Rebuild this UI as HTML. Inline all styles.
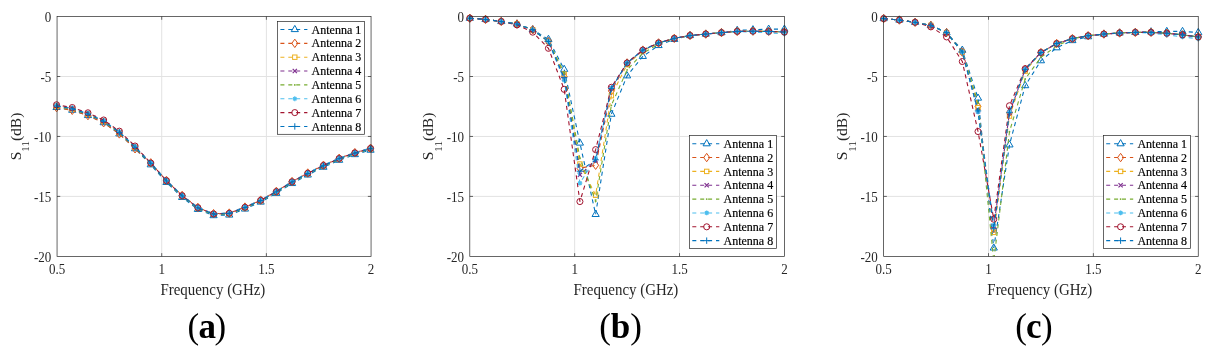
<!DOCTYPE html>
<html><head><meta charset="utf-8"><title>S11 plots</title>
<style>
html,body{margin:0;padding:0;background:#fff;}
svg{display:block;}
text{font-family:"Liberation Serif",serif;fill:#262626;}
.tk{font-size:14.7px;}
.lb{font-size:15px;}
.lg{font-size:12px;fill:#000;stroke:#000;stroke-width:0.18px;}
.cp{font-size:35px;fill:#000;}
</style></head><body>
<svg width="1211" height="349" viewBox="0 0 1211 349">
<rect width="1211" height="349" fill="#fff"/>
<g>
<line x1="161.72" y1="16.55" x2="161.72" y2="256.35" stroke="#e2e2e2" stroke-width="1"/>
<line x1="266.38" y1="16.55" x2="266.38" y2="256.35" stroke="#e2e2e2" stroke-width="1"/>
<line x1="57.05" y1="76.5" x2="371.05" y2="76.5" stroke="#e2e2e2" stroke-width="1"/>
<line x1="57.05" y1="136.45" x2="371.05" y2="136.45" stroke="#e2e2e2" stroke-width="1"/>
<line x1="57.05" y1="196.4" x2="371.05" y2="196.4" stroke="#e2e2e2" stroke-width="1"/>
<clipPath id="cp1"><rect x="52.05" y="11.55" width="324" height="244.8"/></clipPath>
<g clip-path="url(#cp1)">
<polyline points="56.55,107.43 72.25,110.19 87.95,115.47 103.65,122.66 119.35,133.81 135.05,148.68 150.75,164.75 166.45,182.37 182.15,197.36 197.85,209.35 213.55,215.58 229.25,214.98 244.95,208.99 260.65,202.04 276.35,193.28 292.05,183.45 307.75,174.94 323.45,167.14 339.15,160.19 354.85,154.55 370.55,150.12" fill="none" stroke="#0072BD" stroke-width="1.1" stroke-dasharray="4.1 3.7" stroke-dashoffset="0.5"/>
<path d="M56.55 103.33L60.15 109.53L52.95 109.53Z" stroke="#0072BD" stroke-width="1" fill="none"/>
<path d="M72.25 106.09L75.85 112.29L68.65 112.29Z" stroke="#0072BD" stroke-width="1" fill="none"/>
<path d="M87.95 111.37L91.55 117.57L84.35 117.57Z" stroke="#0072BD" stroke-width="1" fill="none"/>
<path d="M103.65 118.56L107.25 124.76L100.05 124.76Z" stroke="#0072BD" stroke-width="1" fill="none"/>
<path d="M119.35 129.71L122.95 135.91L115.75 135.91Z" stroke="#0072BD" stroke-width="1" fill="none"/>
<path d="M135.05 144.58L138.65 150.78L131.45 150.78Z" stroke="#0072BD" stroke-width="1" fill="none"/>
<path d="M150.75 160.65L154.35 166.85L147.15 166.85Z" stroke="#0072BD" stroke-width="1" fill="none"/>
<path d="M166.45 178.27L170.05 184.47L162.85 184.47Z" stroke="#0072BD" stroke-width="1" fill="none"/>
<path d="M182.15 193.26L185.75 199.46L178.55 199.46Z" stroke="#0072BD" stroke-width="1" fill="none"/>
<path d="M197.85 205.25L201.45 211.45L194.25 211.45Z" stroke="#0072BD" stroke-width="1" fill="none"/>
<path d="M213.55 211.48L217.15 217.68L209.95 217.68Z" stroke="#0072BD" stroke-width="1" fill="none"/>
<path d="M229.25 210.88L232.85 217.08L225.65 217.08Z" stroke="#0072BD" stroke-width="1" fill="none"/>
<path d="M244.95 204.89L248.55 211.09L241.35 211.09Z" stroke="#0072BD" stroke-width="1" fill="none"/>
<path d="M260.65 197.94L264.25 204.14L257.05 204.14Z" stroke="#0072BD" stroke-width="1" fill="none"/>
<path d="M276.35 189.18L279.95 195.38L272.75 195.38Z" stroke="#0072BD" stroke-width="1" fill="none"/>
<path d="M292.05 179.35L295.65 185.55L288.45 185.55Z" stroke="#0072BD" stroke-width="1" fill="none"/>
<path d="M307.75 170.84L311.35 177.04L304.15 177.04Z" stroke="#0072BD" stroke-width="1" fill="none"/>
<path d="M323.45 163.04L327.05 169.24L319.85 169.24Z" stroke="#0072BD" stroke-width="1" fill="none"/>
<path d="M339.15 156.09L342.75 162.29L335.55 162.29Z" stroke="#0072BD" stroke-width="1" fill="none"/>
<path d="M354.85 150.45L358.45 156.65L351.25 156.65Z" stroke="#0072BD" stroke-width="1" fill="none"/>
<path d="M370.55 146.02L374.15 152.22L366.95 152.22Z" stroke="#0072BD" stroke-width="1" fill="none"/>
<polyline points="56.55,107.55 72.25,110.31 87.95,115.59 103.65,122.78 119.35,133.93 135.05,148.8 150.75,162.83 166.45,180.45 182.15,195.44 197.85,207.43 213.55,213.67 229.25,213.07 244.95,207.07 260.65,200.12 276.35,191.36 292.05,181.53 307.75,173.02 323.45,165.23 339.15,158.27 354.85,152.64 370.55,148.2" fill="none" stroke="#D95319" stroke-width="1.1" stroke-dasharray="4.1 3.7" stroke-dashoffset="0"/>
<path d="M56.55 103.35L59.55 107.55L56.55 111.75L53.55 107.55Z" stroke="#D95319" stroke-width="1" fill="none"/>
<path d="M72.25 106.11L75.25 110.31L72.25 114.51L69.25 110.31Z" stroke="#D95319" stroke-width="1" fill="none"/>
<path d="M87.95 111.39L90.95 115.59L87.95 119.79L84.95 115.59Z" stroke="#D95319" stroke-width="1" fill="none"/>
<path d="M103.65 118.58L106.65 122.78L103.65 126.98L100.65 122.78Z" stroke="#D95319" stroke-width="1" fill="none"/>
<path d="M119.35 129.73L122.35 133.93L119.35 138.13L116.35 133.93Z" stroke="#D95319" stroke-width="1" fill="none"/>
<path d="M135.05 144.6L138.05 148.8L135.05 153L132.05 148.8Z" stroke="#D95319" stroke-width="1" fill="none"/>
<path d="M150.75 158.63L153.75 162.83L150.75 167.03L147.75 162.83Z" stroke="#D95319" stroke-width="1" fill="none"/>
<path d="M166.45 176.25L169.45 180.45L166.45 184.65L163.45 180.45Z" stroke="#D95319" stroke-width="1" fill="none"/>
<path d="M182.15 191.24L185.15 195.44L182.15 199.64L179.15 195.44Z" stroke="#D95319" stroke-width="1" fill="none"/>
<path d="M197.85 203.23L200.85 207.43L197.85 211.63L194.85 207.43Z" stroke="#D95319" stroke-width="1" fill="none"/>
<path d="M213.55 209.47L216.55 213.67L213.55 217.87L210.55 213.67Z" stroke="#D95319" stroke-width="1" fill="none"/>
<path d="M229.25 208.87L232.25 213.07L229.25 217.27L226.25 213.07Z" stroke="#D95319" stroke-width="1" fill="none"/>
<path d="M244.95 202.87L247.95 207.07L244.95 211.27L241.95 207.07Z" stroke="#D95319" stroke-width="1" fill="none"/>
<path d="M260.65 195.92L263.65 200.12L260.65 204.32L257.65 200.12Z" stroke="#D95319" stroke-width="1" fill="none"/>
<path d="M276.35 187.16L279.35 191.36L276.35 195.56L273.35 191.36Z" stroke="#D95319" stroke-width="1" fill="none"/>
<path d="M292.05 177.33L295.05 181.53L292.05 185.73L289.05 181.53Z" stroke="#D95319" stroke-width="1" fill="none"/>
<path d="M307.75 168.82L310.75 173.02L307.75 177.22L304.75 173.02Z" stroke="#D95319" stroke-width="1" fill="none"/>
<path d="M323.45 161.03L326.45 165.23L323.45 169.43L320.45 165.23Z" stroke="#D95319" stroke-width="1" fill="none"/>
<path d="M339.15 154.07L342.15 158.27L339.15 162.47L336.15 158.27Z" stroke="#D95319" stroke-width="1" fill="none"/>
<path d="M354.85 148.44L357.85 152.64L354.85 156.84L351.85 152.64Z" stroke="#D95319" stroke-width="1" fill="none"/>
<path d="M370.55 144L373.55 148.2L370.55 152.4L367.55 148.2Z" stroke="#D95319" stroke-width="1" fill="none"/>
<polyline points="56.55,106.12 72.25,108.87 87.95,114.15 103.65,121.34 119.35,132.49 135.05,147.36 150.75,163.43 166.45,181.05 182.15,196.04 197.85,208.03 213.55,214.27 229.25,213.67 244.95,207.67 260.65,200.72 276.35,191.96 292.05,182.13 307.75,173.62 323.45,165.83 339.15,158.87 354.85,153.24 370.55,148.8" fill="none" stroke="#EDB120" stroke-width="1.1" stroke-dasharray="4.1 3.7" stroke-dashoffset="0.3"/>
<rect x="54.35" y="103.92" width="4.4" height="4.4" stroke="#EDB120" stroke-width="1" fill="none"/>
<rect x="70.05" y="106.67" width="4.4" height="4.4" stroke="#EDB120" stroke-width="1" fill="none"/>
<rect x="85.75" y="111.95" width="4.4" height="4.4" stroke="#EDB120" stroke-width="1" fill="none"/>
<rect x="101.45" y="119.14" width="4.4" height="4.4" stroke="#EDB120" stroke-width="1" fill="none"/>
<rect x="117.15" y="130.29" width="4.4" height="4.4" stroke="#EDB120" stroke-width="1" fill="none"/>
<rect x="132.85" y="145.16" width="4.4" height="4.4" stroke="#EDB120" stroke-width="1" fill="none"/>
<rect x="148.55" y="161.23" width="4.4" height="4.4" stroke="#EDB120" stroke-width="1" fill="none"/>
<rect x="164.25" y="178.85" width="4.4" height="4.4" stroke="#EDB120" stroke-width="1" fill="none"/>
<rect x="179.95" y="193.84" width="4.4" height="4.4" stroke="#EDB120" stroke-width="1" fill="none"/>
<rect x="195.65" y="205.83" width="4.4" height="4.4" stroke="#EDB120" stroke-width="1" fill="none"/>
<rect x="211.35" y="212.07" width="4.4" height="4.4" stroke="#EDB120" stroke-width="1" fill="none"/>
<rect x="227.05" y="211.47" width="4.4" height="4.4" stroke="#EDB120" stroke-width="1" fill="none"/>
<rect x="242.75" y="205.47" width="4.4" height="4.4" stroke="#EDB120" stroke-width="1" fill="none"/>
<rect x="258.45" y="198.52" width="4.4" height="4.4" stroke="#EDB120" stroke-width="1" fill="none"/>
<rect x="274.15" y="189.76" width="4.4" height="4.4" stroke="#EDB120" stroke-width="1" fill="none"/>
<rect x="289.85" y="179.93" width="4.4" height="4.4" stroke="#EDB120" stroke-width="1" fill="none"/>
<rect x="305.55" y="171.42" width="4.4" height="4.4" stroke="#EDB120" stroke-width="1" fill="none"/>
<rect x="321.25" y="163.63" width="4.4" height="4.4" stroke="#EDB120" stroke-width="1" fill="none"/>
<rect x="336.95" y="156.67" width="4.4" height="4.4" stroke="#EDB120" stroke-width="1" fill="none"/>
<rect x="352.65" y="151.04" width="4.4" height="4.4" stroke="#EDB120" stroke-width="1" fill="none"/>
<rect x="368.35" y="146.6" width="4.4" height="4.4" stroke="#EDB120" stroke-width="1" fill="none"/>
<polyline points="56.55,105.76 72.25,108.51 87.95,113.79 103.65,120.98 119.35,132.13 135.05,147 150.75,163.07 166.45,180.69 182.15,195.68 197.85,207.67 213.55,213.91 229.25,213.31 244.95,207.31 260.65,200.36 276.35,191.6 292.05,181.77 307.75,173.26 323.45,165.47 339.15,158.51 354.85,152.88 370.55,148.44" fill="none" stroke="#7E2F8E" stroke-width="1.1" stroke-dasharray="4.1 3.7" stroke-dashoffset="0"/>
<path d="M54.45 103.66L58.65 107.86M54.45 107.86L58.65 103.66" stroke="#7E2F8E" stroke-width="1.2" fill="none"/>
<path d="M70.15 106.41L74.35 110.61M70.15 110.61L74.35 106.41" stroke="#7E2F8E" stroke-width="1.2" fill="none"/>
<path d="M85.85 111.69L90.05 115.89M85.85 115.89L90.05 111.69" stroke="#7E2F8E" stroke-width="1.2" fill="none"/>
<path d="M101.55 118.88L105.75 123.08M101.55 123.08L105.75 118.88" stroke="#7E2F8E" stroke-width="1.2" fill="none"/>
<path d="M117.25 130.03L121.45 134.23M117.25 134.23L121.45 130.03" stroke="#7E2F8E" stroke-width="1.2" fill="none"/>
<path d="M132.95 144.9L137.15 149.1M132.95 149.1L137.15 144.9" stroke="#7E2F8E" stroke-width="1.2" fill="none"/>
<path d="M148.65 160.97L152.85 165.17M148.65 165.17L152.85 160.97" stroke="#7E2F8E" stroke-width="1.2" fill="none"/>
<path d="M164.35 178.59L168.55 182.79M164.35 182.79L168.55 178.59" stroke="#7E2F8E" stroke-width="1.2" fill="none"/>
<path d="M180.05 193.58L184.25 197.78M180.05 197.78L184.25 193.58" stroke="#7E2F8E" stroke-width="1.2" fill="none"/>
<path d="M195.75 205.57L199.95 209.77M195.75 209.77L199.95 205.57" stroke="#7E2F8E" stroke-width="1.2" fill="none"/>
<path d="M211.45 211.81L215.65 216.01M211.45 216.01L215.65 211.81" stroke="#7E2F8E" stroke-width="1.2" fill="none"/>
<path d="M227.15 211.21L231.35 215.41M227.15 215.41L231.35 211.21" stroke="#7E2F8E" stroke-width="1.2" fill="none"/>
<path d="M242.85 205.21L247.05 209.41M242.85 209.41L247.05 205.21" stroke="#7E2F8E" stroke-width="1.2" fill="none"/>
<path d="M258.55 198.26L262.75 202.46M258.55 202.46L262.75 198.26" stroke="#7E2F8E" stroke-width="1.2" fill="none"/>
<path d="M274.25 189.5L278.45 193.7M274.25 193.7L278.45 189.5" stroke="#7E2F8E" stroke-width="1.2" fill="none"/>
<path d="M289.95 179.67L294.15 183.87M289.95 183.87L294.15 179.67" stroke="#7E2F8E" stroke-width="1.2" fill="none"/>
<path d="M305.65 171.16L309.85 175.36M305.65 175.36L309.85 171.16" stroke="#7E2F8E" stroke-width="1.2" fill="none"/>
<path d="M321.35 163.37L325.55 167.57M321.35 167.57L325.55 163.37" stroke="#7E2F8E" stroke-width="1.2" fill="none"/>
<path d="M337.05 156.41L341.25 160.61M337.05 160.61L341.25 156.41" stroke="#7E2F8E" stroke-width="1.2" fill="none"/>
<path d="M352.75 150.78L356.95 154.98M352.75 154.98L356.95 150.78" stroke="#7E2F8E" stroke-width="1.2" fill="none"/>
<path d="M368.45 146.34L372.65 150.54M368.45 150.54L372.65 146.34" stroke="#7E2F8E" stroke-width="1.2" fill="none"/>
<polyline points="56.55,106.36 72.25,109.11 87.95,114.39 103.65,121.58 119.35,132.73 135.05,147.6 150.75,163.67 166.45,181.29 182.15,196.28 197.85,208.27 213.55,214.5 229.25,213.91 244.95,207.91 260.65,200.96 276.35,192.2 292.05,182.37 307.75,173.86 323.45,166.07 339.15,159.11 354.85,153.48 370.55,149.04" fill="none" stroke="#77AC30" stroke-width="1.1" stroke-dasharray="4.1 3.7" stroke-dashoffset="0.6"/>
<circle cx="56.55" cy="106.36" r="0.9" fill="#77AC30"/>
<circle cx="72.25" cy="109.11" r="0.9" fill="#77AC30"/>
<circle cx="87.95" cy="114.39" r="0.9" fill="#77AC30"/>
<circle cx="103.65" cy="121.58" r="0.9" fill="#77AC30"/>
<circle cx="119.35" cy="132.73" r="0.9" fill="#77AC30"/>
<circle cx="135.05" cy="147.6" r="0.9" fill="#77AC30"/>
<circle cx="150.75" cy="163.67" r="0.9" fill="#77AC30"/>
<circle cx="166.45" cy="181.29" r="0.9" fill="#77AC30"/>
<circle cx="182.15" cy="196.28" r="0.9" fill="#77AC30"/>
<circle cx="197.85" cy="208.27" r="0.9" fill="#77AC30"/>
<circle cx="213.55" cy="214.5" r="0.9" fill="#77AC30"/>
<circle cx="229.25" cy="213.91" r="0.9" fill="#77AC30"/>
<circle cx="244.95" cy="207.91" r="0.9" fill="#77AC30"/>
<circle cx="260.65" cy="200.96" r="0.9" fill="#77AC30"/>
<circle cx="276.35" cy="192.2" r="0.9" fill="#77AC30"/>
<circle cx="292.05" cy="182.37" r="0.9" fill="#77AC30"/>
<circle cx="307.75" cy="173.86" r="0.9" fill="#77AC30"/>
<circle cx="323.45" cy="166.07" r="0.9" fill="#77AC30"/>
<circle cx="339.15" cy="159.11" r="0.9" fill="#77AC30"/>
<circle cx="354.85" cy="153.48" r="0.9" fill="#77AC30"/>
<circle cx="370.55" cy="149.04" r="0.9" fill="#77AC30"/>
<polyline points="56.55,105.4 72.25,108.15 87.95,113.43 103.65,120.62 119.35,131.77 135.05,146.64 150.75,162.71 166.45,180.33 182.15,195.32 197.85,207.31 213.55,213.55 229.25,212.95 244.95,206.95 260.65,200 276.35,191.24 292.05,181.41 307.75,172.9 323.45,165.11 339.15,158.15 354.85,152.52 370.55,148.08" fill="none" stroke="#4DBEEE" stroke-width="1.1" stroke-dasharray="4.1 3.7" stroke-dashoffset="0"/>
<path d="M54.15 105.4L58.95 105.4M56.55 103L56.55 107.8M54.85 103.7L58.25 107.1M54.85 107.1L58.25 103.7" stroke="#4DBEEE" stroke-width="1.2" fill="none"/>
<path d="M69.85 108.15L74.65 108.15M72.25 105.75L72.25 110.55M70.55 106.45L73.95 109.85M70.55 109.85L73.95 106.45" stroke="#4DBEEE" stroke-width="1.2" fill="none"/>
<path d="M85.55 113.43L90.35 113.43M87.95 111.03L87.95 115.83M86.25 111.73L89.65 115.13M86.25 115.13L89.65 111.73" stroke="#4DBEEE" stroke-width="1.2" fill="none"/>
<path d="M101.25 120.62L106.05 120.62M103.65 118.22L103.65 123.02M101.95 118.92L105.35 122.32M101.95 122.32L105.35 118.92" stroke="#4DBEEE" stroke-width="1.2" fill="none"/>
<path d="M116.95 131.77L121.75 131.77M119.35 129.37L119.35 134.17M117.65 130.07L121.05 133.47M117.65 133.47L121.05 130.07" stroke="#4DBEEE" stroke-width="1.2" fill="none"/>
<path d="M132.65 146.64L137.45 146.64M135.05 144.24L135.05 149.04M133.35 144.94L136.75 148.34M133.35 148.34L136.75 144.94" stroke="#4DBEEE" stroke-width="1.2" fill="none"/>
<path d="M148.35 162.71L153.15 162.71M150.75 160.31L150.75 165.11M149.05 161.01L152.45 164.41M149.05 164.41L152.45 161.01" stroke="#4DBEEE" stroke-width="1.2" fill="none"/>
<path d="M164.05 180.33L168.85 180.33M166.45 177.93L166.45 182.73M164.75 178.63L168.15 182.03M164.75 182.03L168.15 178.63" stroke="#4DBEEE" stroke-width="1.2" fill="none"/>
<path d="M179.75 195.32L184.55 195.32M182.15 192.92L182.15 197.72M180.45 193.62L183.85 197.02M180.45 197.02L183.85 193.62" stroke="#4DBEEE" stroke-width="1.2" fill="none"/>
<path d="M195.45 207.31L200.25 207.31M197.85 204.91L197.85 209.71M196.15 205.61L199.55 209.01M196.15 209.01L199.55 205.61" stroke="#4DBEEE" stroke-width="1.2" fill="none"/>
<path d="M211.15 213.55L215.95 213.55M213.55 211.15L213.55 215.95M211.85 211.85L215.25 215.25M211.85 215.25L215.25 211.85" stroke="#4DBEEE" stroke-width="1.2" fill="none"/>
<path d="M226.85 212.95L231.65 212.95M229.25 210.55L229.25 215.35M227.55 211.25L230.95 214.65M227.55 214.65L230.95 211.25" stroke="#4DBEEE" stroke-width="1.2" fill="none"/>
<path d="M242.55 206.95L247.35 206.95M244.95 204.55L244.95 209.35M243.25 205.25L246.65 208.65M243.25 208.65L246.65 205.25" stroke="#4DBEEE" stroke-width="1.2" fill="none"/>
<path d="M258.25 200L263.05 200M260.65 197.6L260.65 202.4M258.95 198.3L262.35 201.7M258.95 201.7L262.35 198.3" stroke="#4DBEEE" stroke-width="1.2" fill="none"/>
<path d="M273.95 191.24L278.75 191.24M276.35 188.84L276.35 193.64M274.65 189.54L278.05 192.94M274.65 192.94L278.05 189.54" stroke="#4DBEEE" stroke-width="1.2" fill="none"/>
<path d="M289.65 181.41L294.45 181.41M292.05 179.01L292.05 183.81M290.35 179.71L293.75 183.11M290.35 183.11L293.75 179.71" stroke="#4DBEEE" stroke-width="1.2" fill="none"/>
<path d="M305.35 172.9L310.15 172.9M307.75 170.5L307.75 175.3M306.05 171.2L309.45 174.6M306.05 174.6L309.45 171.2" stroke="#4DBEEE" stroke-width="1.2" fill="none"/>
<path d="M321.05 165.11L325.85 165.11M323.45 162.71L323.45 167.51M321.75 163.41L325.15 166.81M321.75 166.81L325.15 163.41" stroke="#4DBEEE" stroke-width="1.2" fill="none"/>
<path d="M336.75 158.15L341.55 158.15M339.15 155.75L339.15 160.55M337.45 156.45L340.85 159.85M337.45 159.85L340.85 156.45" stroke="#4DBEEE" stroke-width="1.2" fill="none"/>
<path d="M352.45 152.52L357.25 152.52M354.85 150.12L354.85 154.92M353.15 150.82L356.55 154.22M353.15 154.22L356.55 150.82" stroke="#4DBEEE" stroke-width="1.2" fill="none"/>
<path d="M368.15 148.08L372.95 148.08M370.55 145.68L370.55 150.48M368.85 146.38L372.25 149.78M368.85 149.78L372.25 146.38" stroke="#4DBEEE" stroke-width="1.2" fill="none"/>
<polyline points="56.55,104.8 72.25,107.55 87.95,112.83 103.65,120.02 119.35,131.17 135.05,146.04 150.75,163.07 166.45,180.69 182.15,195.68 197.85,207.67 213.55,213.91 229.25,213.31 244.95,207.31 260.65,200.36 276.35,191.6 292.05,181.77 307.75,173.26 323.45,165.47 339.15,158.51 354.85,152.88 370.55,148.44" fill="none" stroke="#A2142F" stroke-width="1.1" stroke-dasharray="4.1 3.7" stroke-dashoffset="1.5"/>
<circle cx="56.55" cy="104.8" r="3.05" stroke="#A2142F" stroke-width="1" fill="none"/>
<circle cx="72.25" cy="107.55" r="3.05" stroke="#A2142F" stroke-width="1" fill="none"/>
<circle cx="87.95" cy="112.83" r="3.05" stroke="#A2142F" stroke-width="1" fill="none"/>
<circle cx="103.65" cy="120.02" r="3.05" stroke="#A2142F" stroke-width="1" fill="none"/>
<circle cx="119.35" cy="131.17" r="3.05" stroke="#A2142F" stroke-width="1" fill="none"/>
<circle cx="135.05" cy="146.04" r="3.05" stroke="#A2142F" stroke-width="1" fill="none"/>
<circle cx="150.75" cy="163.07" r="3.05" stroke="#A2142F" stroke-width="1" fill="none"/>
<circle cx="166.45" cy="180.69" r="3.05" stroke="#A2142F" stroke-width="1" fill="none"/>
<circle cx="182.15" cy="195.68" r="3.05" stroke="#A2142F" stroke-width="1" fill="none"/>
<circle cx="197.85" cy="207.67" r="3.05" stroke="#A2142F" stroke-width="1" fill="none"/>
<circle cx="213.55" cy="213.91" r="3.05" stroke="#A2142F" stroke-width="1" fill="none"/>
<circle cx="229.25" cy="213.31" r="3.05" stroke="#A2142F" stroke-width="1" fill="none"/>
<circle cx="244.95" cy="207.31" r="3.05" stroke="#A2142F" stroke-width="1" fill="none"/>
<circle cx="260.65" cy="200.36" r="3.05" stroke="#A2142F" stroke-width="1" fill="none"/>
<circle cx="276.35" cy="191.6" r="3.05" stroke="#A2142F" stroke-width="1" fill="none"/>
<circle cx="292.05" cy="181.77" r="3.05" stroke="#A2142F" stroke-width="1" fill="none"/>
<circle cx="307.75" cy="173.26" r="3.05" stroke="#A2142F" stroke-width="1" fill="none"/>
<circle cx="323.45" cy="165.47" r="3.05" stroke="#A2142F" stroke-width="1" fill="none"/>
<circle cx="339.15" cy="158.51" r="3.05" stroke="#A2142F" stroke-width="1" fill="none"/>
<circle cx="354.85" cy="152.88" r="3.05" stroke="#A2142F" stroke-width="1" fill="none"/>
<circle cx="370.55" cy="148.44" r="3.05" stroke="#A2142F" stroke-width="1" fill="none"/>
<polyline points="56.55,106 72.25,108.75 87.95,114.03 103.65,121.22 119.35,132.37 135.05,147.24 150.75,163.31 166.45,180.93 182.15,195.92 197.85,207.91 213.55,214.15 229.25,213.55 244.95,207.55 260.65,200.6 276.35,191.84 292.05,182.01 307.75,173.5 323.45,165.71 339.15,158.75 354.85,153.12 370.55,148.68" fill="none" stroke="#0072BD" stroke-width="1.1" stroke-dasharray="4.1 3.7" stroke-dashoffset="0"/>
<path d="M53.35 106L59.75 106M56.55 102.8L56.55 109.2" stroke="#0072BD" stroke-width="1" fill="none"/>
<path d="M69.05 108.75L75.45 108.75M72.25 105.55L72.25 111.95" stroke="#0072BD" stroke-width="1" fill="none"/>
<path d="M84.75 114.03L91.15 114.03M87.95 110.83L87.95 117.23" stroke="#0072BD" stroke-width="1" fill="none"/>
<path d="M100.45 121.22L106.85 121.22M103.65 118.02L103.65 124.42" stroke="#0072BD" stroke-width="1" fill="none"/>
<path d="M116.15 132.37L122.55 132.37M119.35 129.17L119.35 135.57" stroke="#0072BD" stroke-width="1" fill="none"/>
<path d="M131.85 147.24L138.25 147.24M135.05 144.04L135.05 150.44" stroke="#0072BD" stroke-width="1" fill="none"/>
<path d="M147.55 163.31L153.95 163.31M150.75 160.11L150.75 166.51" stroke="#0072BD" stroke-width="1" fill="none"/>
<path d="M163.25 180.93L169.65 180.93M166.45 177.73L166.45 184.13" stroke="#0072BD" stroke-width="1" fill="none"/>
<path d="M178.95 195.92L185.35 195.92M182.15 192.72L182.15 199.12" stroke="#0072BD" stroke-width="1" fill="none"/>
<path d="M194.65 207.91L201.05 207.91M197.85 204.71L197.85 211.11" stroke="#0072BD" stroke-width="1" fill="none"/>
<path d="M210.35 214.15L216.75 214.15M213.55 210.95L213.55 217.35" stroke="#0072BD" stroke-width="1" fill="none"/>
<path d="M226.05 213.55L232.45 213.55M229.25 210.35L229.25 216.75" stroke="#0072BD" stroke-width="1" fill="none"/>
<path d="M241.75 207.55L248.15 207.55M244.95 204.35L244.95 210.75" stroke="#0072BD" stroke-width="1" fill="none"/>
<path d="M257.45 200.6L263.85 200.6M260.65 197.4L260.65 203.8" stroke="#0072BD" stroke-width="1" fill="none"/>
<path d="M273.15 191.84L279.55 191.84M276.35 188.64L276.35 195.04" stroke="#0072BD" stroke-width="1" fill="none"/>
<path d="M288.85 182.01L295.25 182.01M292.05 178.81L292.05 185.21" stroke="#0072BD" stroke-width="1" fill="none"/>
<path d="M304.55 173.5L310.95 173.5M307.75 170.3L307.75 176.7" stroke="#0072BD" stroke-width="1" fill="none"/>
<path d="M320.25 165.71L326.65 165.71M323.45 162.51L323.45 168.91" stroke="#0072BD" stroke-width="1" fill="none"/>
<path d="M335.95 158.75L342.35 158.75M339.15 155.55L339.15 161.95" stroke="#0072BD" stroke-width="1" fill="none"/>
<path d="M351.65 153.12L358.05 153.12M354.85 149.92L354.85 156.32" stroke="#0072BD" stroke-width="1" fill="none"/>
<path d="M367.35 148.68L373.75 148.68M370.55 145.48L370.55 151.88" stroke="#0072BD" stroke-width="1" fill="none"/>
</g>
<rect x="57.05" y="16.55" width="314" height="239.8" fill="none" stroke="#262626" stroke-width="0.7"/>
<text transform="translate(57.05 274) scale(0.885 1)" text-anchor="middle" class="tk">0.5</text>
<line x1="161.72" y1="256.35" x2="161.72" y2="253.15000000000003" stroke="#262626" stroke-width="0.7"/>
<line x1="161.72" y1="16.55" x2="161.72" y2="19.75" stroke="#262626" stroke-width="0.7"/>
<text transform="translate(161.72 274) scale(0.885 1)" text-anchor="middle" class="tk">1</text>
<line x1="266.38" y1="256.35" x2="266.38" y2="253.15000000000003" stroke="#262626" stroke-width="0.7"/>
<line x1="266.38" y1="16.55" x2="266.38" y2="19.75" stroke="#262626" stroke-width="0.7"/>
<text transform="translate(266.38 274) scale(0.885 1)" text-anchor="middle" class="tk">1.5</text>
<text transform="translate(371.05 274) scale(0.885 1)" text-anchor="middle" class="tk">2</text>
<text transform="translate(51.25 21.85) scale(0.885 1)" text-anchor="end" class="tk">0</text>
<line x1="57.05" y1="76.5" x2="60.25" y2="76.5" stroke="#262626" stroke-width="0.7"/>
<line x1="371.05" y1="76.5" x2="367.85" y2="76.5" stroke="#262626" stroke-width="0.7"/>
<text transform="translate(51.25 81.8) scale(0.885 1)" text-anchor="end" class="tk">-5</text>
<line x1="57.05" y1="136.45" x2="60.25" y2="136.45" stroke="#262626" stroke-width="0.7"/>
<line x1="371.05" y1="136.45" x2="367.85" y2="136.45" stroke="#262626" stroke-width="0.7"/>
<text transform="translate(51.25 141.75) scale(0.885 1)" text-anchor="end" class="tk">-10</text>
<line x1="57.05" y1="196.4" x2="60.25" y2="196.4" stroke="#262626" stroke-width="0.7"/>
<line x1="371.05" y1="196.4" x2="367.85" y2="196.4" stroke="#262626" stroke-width="0.7"/>
<text transform="translate(51.25 201.7) scale(0.885 1)" text-anchor="end" class="tk">-15</text>
<text transform="translate(51.25 261.65) scale(0.885 1)" text-anchor="end" class="tk">-20</text>
<text transform="translate(212.85 295.2) scale(0.945 1)" text-anchor="middle" class="lb" style="font-size:15.8px">Frequency (GHz)</text>
<text transform="translate(20.65 136.45) rotate(-90)" text-anchor="middle" class="lb" style="font-size:15.5px">S<tspan dy="8.4" style="font-size:11px">11</tspan><tspan dy="-8.4">(dB)</tspan></text>
<text y="338.3" class="cp"><tspan x="187.5">(</tspan><tspan x="198.5" font-weight="bold">a</tspan><tspan x="214.6">)</tspan></text>
<rect x="277.6" y="21.4" width="87.0" height="112.9" fill="#fff" stroke="#262626" stroke-width="0.7"/>
<line x1="280.4" y1="29.5" x2="307.4" y2="29.5" stroke="#0072BD" stroke-width="1.1" stroke-dasharray="4 3.9"/>
<path d="M294.8 25.4L298.4 31.6L291.2 31.6Z" stroke="#0072BD" stroke-width="1" fill="none"/>
<text x="311.6" y="33.6" class="lg">Antenna 1</text>
<line x1="280.4" y1="43.35" x2="307.4" y2="43.35" stroke="#D95319" stroke-width="1.1" stroke-dasharray="4 3.9"/>
<path d="M294.8 39.15L297.8 43.35L294.8 47.55L291.8 43.35Z" stroke="#D95319" stroke-width="1" fill="none"/>
<text x="311.6" y="47.45" class="lg">Antenna 2</text>
<line x1="280.4" y1="57.2" x2="307.4" y2="57.2" stroke="#EDB120" stroke-width="1.1" stroke-dasharray="4 3.9"/>
<rect x="292.6" y="55" width="4.4" height="4.4" stroke="#EDB120" stroke-width="1" fill="none"/>
<text x="311.6" y="61.3" class="lg">Antenna 3</text>
<line x1="280.4" y1="71.05" x2="307.4" y2="71.05" stroke="#7E2F8E" stroke-width="1.1" stroke-dasharray="4 3.9"/>
<path d="M292.7 68.95L296.9 73.15M292.7 73.15L296.9 68.95" stroke="#7E2F8E" stroke-width="1.2" fill="none"/>
<text x="311.6" y="75.15" class="lg">Antenna 4</text>
<line x1="280.4" y1="84.9" x2="307.4" y2="84.9" stroke="#77AC30" stroke-width="1.1" stroke-dasharray="4 3.9"/>
<circle cx="294.8" cy="84.9" r="0.9" fill="#77AC30"/>
<text x="311.6" y="89" class="lg">Antenna 5</text>
<line x1="280.4" y1="98.75" x2="307.4" y2="98.75" stroke="#4DBEEE" stroke-width="1.1" stroke-dasharray="4 3.9"/>
<path d="M292.4 98.75L297.2 98.75M294.8 96.35L294.8 101.15M293.1 97.05L296.5 100.45M293.1 100.45L296.5 97.05" stroke="#4DBEEE" stroke-width="1.2" fill="none"/>
<text x="311.6" y="102.85" class="lg">Antenna 6</text>
<line x1="280.4" y1="112.6" x2="307.4" y2="112.6" stroke="#A2142F" stroke-width="1.1" stroke-dasharray="4 3.9"/>
<circle cx="294.8" cy="112.6" r="3.05" stroke="#A2142F" stroke-width="1" fill="none"/>
<text x="311.6" y="116.7" class="lg">Antenna 7</text>
<line x1="280.4" y1="126.45" x2="307.4" y2="126.45" stroke="#0072BD" stroke-width="1.1" stroke-dasharray="4 3.9"/>
<path d="M291.6 126.45L298 126.45M294.8 123.25L294.8 129.65" stroke="#0072BD" stroke-width="1" fill="none"/>
<text x="311.6" y="130.55" class="lg">Antenna 8</text>
</g>
<g>
<line x1="574.67" y1="16.55" x2="574.67" y2="256.35" stroke="#e2e2e2" stroke-width="1"/>
<line x1="679.53" y1="16.55" x2="679.53" y2="256.35" stroke="#e2e2e2" stroke-width="1"/>
<line x1="469.8" y1="76.5" x2="784.4" y2="76.5" stroke="#e2e2e2" stroke-width="1"/>
<line x1="469.8" y1="136.45" x2="784.4" y2="136.45" stroke="#e2e2e2" stroke-width="1"/>
<line x1="469.8" y1="196.4" x2="784.4" y2="196.4" stroke="#e2e2e2" stroke-width="1"/>
<clipPath id="cp2"><rect x="464.8" y="11.55" width="324.6" height="244.8"/></clipPath>
<g clip-path="url(#cp2)">
<polyline points="469.8,18.23 485.53,19.43 501.26,21.47 516.99,23.98 532.72,29.74 548.45,39.33 564.18,69.31 579.91,143.04 595.64,214.39 611.37,114.15 627.1,75.78 642.83,56.36 658.56,45.45 674.29,39.33 690.02,35.49 705.75,34.06 721.48,32.62 737.21,30.34 752.94,29.74 768.67,29.14 784.4,29.14" fill="none" stroke="#0072BD" stroke-width="1.1" stroke-dasharray="4.1 3.7"/>
<path d="M469.8 14.13L473.4 20.33L466.2 20.33Z" stroke="#0072BD" stroke-width="1" fill="none"/>
<path d="M485.53 15.33L489.13 21.53L481.93 21.53Z" stroke="#0072BD" stroke-width="1" fill="none"/>
<path d="M501.26 17.37L504.86 23.57L497.66 23.57Z" stroke="#0072BD" stroke-width="1" fill="none"/>
<path d="M516.99 19.88L520.59 26.08L513.39 26.08Z" stroke="#0072BD" stroke-width="1" fill="none"/>
<path d="M532.72 25.64L536.32 31.84L529.12 31.84Z" stroke="#0072BD" stroke-width="1" fill="none"/>
<path d="M548.45 35.23L552.05 41.43L544.85 41.43Z" stroke="#0072BD" stroke-width="1" fill="none"/>
<path d="M564.18 65.21L567.78 71.41L560.58 71.41Z" stroke="#0072BD" stroke-width="1" fill="none"/>
<path d="M579.91 138.94L583.51 145.14L576.31 145.14Z" stroke="#0072BD" stroke-width="1" fill="none"/>
<path d="M595.64 210.29L599.24 216.49L592.04 216.49Z" stroke="#0072BD" stroke-width="1" fill="none"/>
<path d="M611.37 110.05L614.97 116.25L607.77 116.25Z" stroke="#0072BD" stroke-width="1" fill="none"/>
<path d="M627.1 71.68L630.7 77.88L623.5 77.88Z" stroke="#0072BD" stroke-width="1" fill="none"/>
<path d="M642.83 52.26L646.43 58.46L639.23 58.46Z" stroke="#0072BD" stroke-width="1" fill="none"/>
<path d="M658.56 41.35L662.16 47.55L654.96 47.55Z" stroke="#0072BD" stroke-width="1" fill="none"/>
<path d="M674.29 35.23L677.89 41.43L670.69 41.43Z" stroke="#0072BD" stroke-width="1" fill="none"/>
<path d="M690.02 31.39L693.62 37.59L686.42 37.59Z" stroke="#0072BD" stroke-width="1" fill="none"/>
<path d="M705.75 29.96L709.35 36.16L702.15 36.16Z" stroke="#0072BD" stroke-width="1" fill="none"/>
<path d="M721.48 28.52L725.08 34.72L717.88 34.72Z" stroke="#0072BD" stroke-width="1" fill="none"/>
<path d="M737.21 26.24L740.81 32.44L733.61 32.44Z" stroke="#0072BD" stroke-width="1" fill="none"/>
<path d="M752.94 25.64L756.54 31.84L749.34 31.84Z" stroke="#0072BD" stroke-width="1" fill="none"/>
<path d="M768.67 25.04L772.27 31.24L765.07 31.24Z" stroke="#0072BD" stroke-width="1" fill="none"/>
<path d="M784.4 25.04L788 31.24L780.8 31.24Z" stroke="#0072BD" stroke-width="1" fill="none"/>
<polyline points="469.8,18.23 485.53,19.43 501.26,21.47 516.99,23.98 532.72,29.74 548.45,41.49 564.18,76.5 579.91,168.22 595.64,165.23 611.37,90.89 627.1,62.95 642.83,50.12 658.56,42.93 674.29,38.37 690.02,35.49 705.75,34.06 721.48,32.62 737.21,31.42 752.94,31.18 768.67,31.42 784.4,32.02" fill="none" stroke="#D95319" stroke-width="1.1" stroke-dasharray="4.1 3.7"/>
<path d="M469.8 14.03L472.8 18.23L469.8 22.43L466.8 18.23Z" stroke="#D95319" stroke-width="1" fill="none"/>
<path d="M485.53 15.23L488.53 19.43L485.53 23.63L482.53 19.43Z" stroke="#D95319" stroke-width="1" fill="none"/>
<path d="M501.26 17.27L504.26 21.47L501.26 25.67L498.26 21.47Z" stroke="#D95319" stroke-width="1" fill="none"/>
<path d="M516.99 19.78L519.99 23.98L516.99 28.18L513.99 23.98Z" stroke="#D95319" stroke-width="1" fill="none"/>
<path d="M532.72 25.54L535.72 29.74L532.72 33.94L529.72 29.74Z" stroke="#D95319" stroke-width="1" fill="none"/>
<path d="M548.45 37.29L551.45 41.49L548.45 45.69L545.45 41.49Z" stroke="#D95319" stroke-width="1" fill="none"/>
<path d="M564.18 72.3L567.18 76.5L564.18 80.7L561.18 76.5Z" stroke="#D95319" stroke-width="1" fill="none"/>
<path d="M579.91 164.02L582.91 168.22L579.91 172.42L576.91 168.22Z" stroke="#D95319" stroke-width="1" fill="none"/>
<path d="M595.64 161.03L598.64 165.23L595.64 169.43L592.64 165.23Z" stroke="#D95319" stroke-width="1" fill="none"/>
<path d="M611.37 86.69L614.37 90.89L611.37 95.09L608.37 90.89Z" stroke="#D95319" stroke-width="1" fill="none"/>
<path d="M627.1 58.75L630.1 62.95L627.1 67.15L624.1 62.95Z" stroke="#D95319" stroke-width="1" fill="none"/>
<path d="M642.83 45.92L645.83 50.12L642.83 54.32L639.83 50.12Z" stroke="#D95319" stroke-width="1" fill="none"/>
<path d="M658.56 38.73L661.56 42.93L658.56 47.13L655.56 42.93Z" stroke="#D95319" stroke-width="1" fill="none"/>
<path d="M674.29 34.17L677.29 38.37L674.29 42.57L671.29 38.37Z" stroke="#D95319" stroke-width="1" fill="none"/>
<path d="M690.02 31.29L693.02 35.49L690.02 39.69L687.02 35.49Z" stroke="#D95319" stroke-width="1" fill="none"/>
<path d="M705.75 29.86L708.75 34.06L705.75 38.26L702.75 34.06Z" stroke="#D95319" stroke-width="1" fill="none"/>
<path d="M721.48 28.42L724.48 32.62L721.48 36.82L718.48 32.62Z" stroke="#D95319" stroke-width="1" fill="none"/>
<path d="M737.21 27.22L740.21 31.42L737.21 35.62L734.21 31.42Z" stroke="#D95319" stroke-width="1" fill="none"/>
<path d="M752.94 26.98L755.94 31.18L752.94 35.38L749.94 31.18Z" stroke="#D95319" stroke-width="1" fill="none"/>
<path d="M768.67 27.22L771.67 31.42L768.67 35.62L765.67 31.42Z" stroke="#D95319" stroke-width="1" fill="none"/>
<path d="M784.4 27.82L787.4 32.02L784.4 36.22L781.4 32.02Z" stroke="#D95319" stroke-width="1" fill="none"/>
<polyline points="469.8,18.23 485.53,19.43 501.26,21.47 516.99,23.98 532.72,29.74 548.45,41.49 564.18,74.1 579.91,164.03 595.64,195.2 611.37,95.68 627.1,64.51 642.83,50.72 658.56,42.93 674.29,38.37 690.02,35.49 705.75,34.06 721.48,32.62 737.21,31.42 752.94,31.18 768.67,31.42 784.4,32.02" fill="none" stroke="#EDB120" stroke-width="1.1" stroke-dasharray="4.1 3.7"/>
<rect x="467.6" y="16.03" width="4.4" height="4.4" stroke="#EDB120" stroke-width="1" fill="none"/>
<rect x="483.33" y="17.23" width="4.4" height="4.4" stroke="#EDB120" stroke-width="1" fill="none"/>
<rect x="499.06" y="19.27" width="4.4" height="4.4" stroke="#EDB120" stroke-width="1" fill="none"/>
<rect x="514.79" y="21.78" width="4.4" height="4.4" stroke="#EDB120" stroke-width="1" fill="none"/>
<rect x="530.52" y="27.54" width="4.4" height="4.4" stroke="#EDB120" stroke-width="1" fill="none"/>
<rect x="546.25" y="39.29" width="4.4" height="4.4" stroke="#EDB120" stroke-width="1" fill="none"/>
<rect x="561.98" y="71.9" width="4.4" height="4.4" stroke="#EDB120" stroke-width="1" fill="none"/>
<rect x="577.71" y="161.83" width="4.4" height="4.4" stroke="#EDB120" stroke-width="1" fill="none"/>
<rect x="593.44" y="193" width="4.4" height="4.4" stroke="#EDB120" stroke-width="1" fill="none"/>
<rect x="609.17" y="93.48" width="4.4" height="4.4" stroke="#EDB120" stroke-width="1" fill="none"/>
<rect x="624.9" y="62.31" width="4.4" height="4.4" stroke="#EDB120" stroke-width="1" fill="none"/>
<rect x="640.63" y="48.52" width="4.4" height="4.4" stroke="#EDB120" stroke-width="1" fill="none"/>
<rect x="656.36" y="40.73" width="4.4" height="4.4" stroke="#EDB120" stroke-width="1" fill="none"/>
<rect x="672.09" y="36.17" width="4.4" height="4.4" stroke="#EDB120" stroke-width="1" fill="none"/>
<rect x="687.82" y="33.29" width="4.4" height="4.4" stroke="#EDB120" stroke-width="1" fill="none"/>
<rect x="703.55" y="31.86" width="4.4" height="4.4" stroke="#EDB120" stroke-width="1" fill="none"/>
<rect x="719.28" y="30.42" width="4.4" height="4.4" stroke="#EDB120" stroke-width="1" fill="none"/>
<rect x="735.01" y="29.22" width="4.4" height="4.4" stroke="#EDB120" stroke-width="1" fill="none"/>
<rect x="750.74" y="28.98" width="4.4" height="4.4" stroke="#EDB120" stroke-width="1" fill="none"/>
<rect x="766.47" y="29.22" width="4.4" height="4.4" stroke="#EDB120" stroke-width="1" fill="none"/>
<rect x="782.2" y="29.82" width="4.4" height="4.4" stroke="#EDB120" stroke-width="1" fill="none"/>
<polyline points="469.8,18.23 485.53,19.43 501.26,21.47 516.99,23.98 532.72,29.74 548.45,41.49 564.18,78.9 579.91,174.82 595.64,160.43 611.37,88.37 627.1,62.95 642.83,50.12 658.56,42.93 674.29,38.37 690.02,35.49 705.75,34.06 721.48,32.62 737.21,31.42 752.94,31.18 768.67,31.42 784.4,32.02" fill="none" stroke="#7E2F8E" stroke-width="1.1" stroke-dasharray="4.1 3.7"/>
<path d="M467.7 16.13L471.9 20.33M467.7 20.33L471.9 16.13" stroke="#7E2F8E" stroke-width="1.2" fill="none"/>
<path d="M483.43 17.33L487.63 21.53M483.43 21.53L487.63 17.33" stroke="#7E2F8E" stroke-width="1.2" fill="none"/>
<path d="M499.16 19.37L503.36 23.57M499.16 23.57L503.36 19.37" stroke="#7E2F8E" stroke-width="1.2" fill="none"/>
<path d="M514.89 21.88L519.09 26.08M514.89 26.08L519.09 21.88" stroke="#7E2F8E" stroke-width="1.2" fill="none"/>
<path d="M530.62 27.64L534.82 31.84M530.62 31.84L534.82 27.64" stroke="#7E2F8E" stroke-width="1.2" fill="none"/>
<path d="M546.35 39.39L550.55 43.59M546.35 43.59L550.55 39.39" stroke="#7E2F8E" stroke-width="1.2" fill="none"/>
<path d="M562.08 76.8L566.28 81M562.08 81L566.28 76.8" stroke="#7E2F8E" stroke-width="1.2" fill="none"/>
<path d="M577.81 172.72L582.01 176.92M577.81 176.92L582.01 172.72" stroke="#7E2F8E" stroke-width="1.2" fill="none"/>
<path d="M593.54 158.33L597.74 162.53M593.54 162.53L597.74 158.33" stroke="#7E2F8E" stroke-width="1.2" fill="none"/>
<path d="M609.27 86.27L613.47 90.47M609.27 90.47L613.47 86.27" stroke="#7E2F8E" stroke-width="1.2" fill="none"/>
<path d="M625 60.85L629.2 65.05M625 65.05L629.2 60.85" stroke="#7E2F8E" stroke-width="1.2" fill="none"/>
<path d="M640.73 48.02L644.93 52.22M640.73 52.22L644.93 48.02" stroke="#7E2F8E" stroke-width="1.2" fill="none"/>
<path d="M656.46 40.83L660.66 45.03M656.46 45.03L660.66 40.83" stroke="#7E2F8E" stroke-width="1.2" fill="none"/>
<path d="M672.19 36.27L676.39 40.47M672.19 40.47L676.39 36.27" stroke="#7E2F8E" stroke-width="1.2" fill="none"/>
<path d="M687.92 33.39L692.12 37.59M687.92 37.59L692.12 33.39" stroke="#7E2F8E" stroke-width="1.2" fill="none"/>
<path d="M703.65 31.96L707.85 36.16M703.65 36.16L707.85 31.96" stroke="#7E2F8E" stroke-width="1.2" fill="none"/>
<path d="M719.38 30.52L723.58 34.72M719.38 34.72L723.58 30.52" stroke="#7E2F8E" stroke-width="1.2" fill="none"/>
<path d="M735.11 29.32L739.31 33.52M735.11 33.52L739.31 29.32" stroke="#7E2F8E" stroke-width="1.2" fill="none"/>
<path d="M750.84 29.08L755.04 33.28M750.84 33.28L755.04 29.08" stroke="#7E2F8E" stroke-width="1.2" fill="none"/>
<path d="M766.57 29.32L770.77 33.52M766.57 33.52L770.77 29.32" stroke="#7E2F8E" stroke-width="1.2" fill="none"/>
<path d="M782.3 29.92L786.5 34.12M782.3 34.12L786.5 29.92" stroke="#7E2F8E" stroke-width="1.2" fill="none"/>
<polyline points="469.8,18.23 485.53,19.43 501.26,21.47 516.99,23.98 532.72,29.74 548.45,41.49 564.18,72.9 579.91,158.03 595.64,201.2 611.37,105.28 627.1,69.91 642.83,53.12 658.56,44.13 674.29,38.37 690.02,35.49 705.75,34.06 721.48,32.62 737.21,31.42 752.94,31.18 768.67,31.42 784.4,32.02" fill="none" stroke="#77AC30" stroke-width="1.1" stroke-dasharray="4.1 3.7"/>
<circle cx="469.8" cy="18.23" r="0.9" fill="#77AC30"/>
<circle cx="485.53" cy="19.43" r="0.9" fill="#77AC30"/>
<circle cx="501.26" cy="21.47" r="0.9" fill="#77AC30"/>
<circle cx="516.99" cy="23.98" r="0.9" fill="#77AC30"/>
<circle cx="532.72" cy="29.74" r="0.9" fill="#77AC30"/>
<circle cx="548.45" cy="41.49" r="0.9" fill="#77AC30"/>
<circle cx="564.18" cy="72.9" r="0.9" fill="#77AC30"/>
<circle cx="579.91" cy="158.03" r="0.9" fill="#77AC30"/>
<circle cx="595.64" cy="201.2" r="0.9" fill="#77AC30"/>
<circle cx="611.37" cy="105.28" r="0.9" fill="#77AC30"/>
<circle cx="627.1" cy="69.91" r="0.9" fill="#77AC30"/>
<circle cx="642.83" cy="53.12" r="0.9" fill="#77AC30"/>
<circle cx="658.56" cy="44.13" r="0.9" fill="#77AC30"/>
<circle cx="674.29" cy="38.37" r="0.9" fill="#77AC30"/>
<circle cx="690.02" cy="35.49" r="0.9" fill="#77AC30"/>
<circle cx="705.75" cy="34.06" r="0.9" fill="#77AC30"/>
<circle cx="721.48" cy="32.62" r="0.9" fill="#77AC30"/>
<circle cx="737.21" cy="31.42" r="0.9" fill="#77AC30"/>
<circle cx="752.94" cy="31.18" r="0.9" fill="#77AC30"/>
<circle cx="768.67" cy="31.42" r="0.9" fill="#77AC30"/>
<circle cx="784.4" cy="32.02" r="0.9" fill="#77AC30"/>
<polyline points="469.8,18.23 485.53,19.43 501.26,21.47 516.99,23.98 532.72,29.74 548.45,41.49 564.18,80.1 579.91,183.21 595.64,158.03 611.37,88.37 627.1,62.95 642.83,50.12 658.56,42.93 674.29,38.37 690.02,35.49 705.75,34.06 721.48,32.62 737.21,31.42 752.94,32.14 768.67,32.86 784.4,33.7" fill="none" stroke="#4DBEEE" stroke-width="1.1" stroke-dasharray="4.1 3.7"/>
<path d="M467.4 18.23L472.2 18.23M469.8 15.83L469.8 20.63M468.1 16.53L471.5 19.93M468.1 19.93L471.5 16.53" stroke="#4DBEEE" stroke-width="1.2" fill="none"/>
<path d="M483.13 19.43L487.93 19.43M485.53 17.03L485.53 21.83M483.83 17.73L487.23 21.13M483.83 21.13L487.23 17.73" stroke="#4DBEEE" stroke-width="1.2" fill="none"/>
<path d="M498.86 21.47L503.66 21.47M501.26 19.07L501.26 23.87M499.56 19.77L502.96 23.17M499.56 23.17L502.96 19.77" stroke="#4DBEEE" stroke-width="1.2" fill="none"/>
<path d="M514.59 23.98L519.39 23.98M516.99 21.58L516.99 26.38M515.29 22.28L518.69 25.68M515.29 25.68L518.69 22.28" stroke="#4DBEEE" stroke-width="1.2" fill="none"/>
<path d="M530.32 29.74L535.12 29.74M532.72 27.34L532.72 32.14M531.02 28.04L534.42 31.44M531.02 31.44L534.42 28.04" stroke="#4DBEEE" stroke-width="1.2" fill="none"/>
<path d="M546.05 41.49L550.85 41.49M548.45 39.09L548.45 43.89M546.75 39.79L550.15 43.19M546.75 43.19L550.15 39.79" stroke="#4DBEEE" stroke-width="1.2" fill="none"/>
<path d="M561.78 80.1L566.58 80.1M564.18 77.7L564.18 82.5M562.48 78.4L565.88 81.8M562.48 81.8L565.88 78.4" stroke="#4DBEEE" stroke-width="1.2" fill="none"/>
<path d="M577.51 183.21L582.31 183.21M579.91 180.81L579.91 185.61M578.21 181.51L581.61 184.91M578.21 184.91L581.61 181.51" stroke="#4DBEEE" stroke-width="1.2" fill="none"/>
<path d="M593.24 158.03L598.04 158.03M595.64 155.63L595.64 160.43M593.94 156.33L597.34 159.73M593.94 159.73L597.34 156.33" stroke="#4DBEEE" stroke-width="1.2" fill="none"/>
<path d="M608.97 88.37L613.77 88.37M611.37 85.97L611.37 90.77M609.67 86.67L613.07 90.07M609.67 90.07L613.07 86.67" stroke="#4DBEEE" stroke-width="1.2" fill="none"/>
<path d="M624.7 62.95L629.5 62.95M627.1 60.55L627.1 65.35M625.4 61.25L628.8 64.65M625.4 64.65L628.8 61.25" stroke="#4DBEEE" stroke-width="1.2" fill="none"/>
<path d="M640.43 50.12L645.23 50.12M642.83 47.72L642.83 52.52M641.13 48.42L644.53 51.82M641.13 51.82L644.53 48.42" stroke="#4DBEEE" stroke-width="1.2" fill="none"/>
<path d="M656.16 42.93L660.96 42.93M658.56 40.53L658.56 45.33M656.86 41.23L660.26 44.63M656.86 44.63L660.26 41.23" stroke="#4DBEEE" stroke-width="1.2" fill="none"/>
<path d="M671.89 38.37L676.69 38.37M674.29 35.97L674.29 40.77M672.59 36.67L675.99 40.07M672.59 40.07L675.99 36.67" stroke="#4DBEEE" stroke-width="1.2" fill="none"/>
<path d="M687.62 35.49L692.42 35.49M690.02 33.09L690.02 37.89M688.32 33.79L691.72 37.19M688.32 37.19L691.72 33.79" stroke="#4DBEEE" stroke-width="1.2" fill="none"/>
<path d="M703.35 34.06L708.15 34.06M705.75 31.66L705.75 36.46M704.05 32.36L707.45 35.76M704.05 35.76L707.45 32.36" stroke="#4DBEEE" stroke-width="1.2" fill="none"/>
<path d="M719.08 32.62L723.88 32.62M721.48 30.22L721.48 35.02M719.78 30.92L723.18 34.32M719.78 34.32L723.18 30.92" stroke="#4DBEEE" stroke-width="1.2" fill="none"/>
<path d="M734.81 31.42L739.61 31.42M737.21 29.02L737.21 33.82M735.51 29.72L738.91 33.12M735.51 33.12L738.91 29.72" stroke="#4DBEEE" stroke-width="1.2" fill="none"/>
<path d="M750.54 32.14L755.34 32.14M752.94 29.74L752.94 34.54M751.24 30.44L754.64 33.84M751.24 33.84L754.64 30.44" stroke="#4DBEEE" stroke-width="1.2" fill="none"/>
<path d="M766.27 32.86L771.07 32.86M768.67 30.46L768.67 35.26M766.97 31.16L770.37 34.56M766.97 34.56L770.37 31.16" stroke="#4DBEEE" stroke-width="1.2" fill="none"/>
<path d="M782 33.7L786.8 33.7M784.4 31.3L784.4 36.1M782.7 32L786.1 35.4M782.7 35.4L786.1 32" stroke="#4DBEEE" stroke-width="1.2" fill="none"/>
<polyline points="469.8,18.23 485.53,19.43 501.26,21.47 516.99,24.94 532.72,32.14 548.45,48.32 564.18,89.33 579.91,201.56 595.64,149.64 611.37,87.29 627.1,62.95 642.83,50.12 658.56,42.93 674.29,38.37 690.02,35.49 705.75,34.06 721.48,32.62 737.21,31.42 752.94,31.18 768.67,31.42 784.4,32.02" fill="none" stroke="#A2142F" stroke-width="1.1" stroke-dasharray="4.1 3.7"/>
<circle cx="469.8" cy="18.23" r="3.05" stroke="#A2142F" stroke-width="1" fill="none"/>
<circle cx="485.53" cy="19.43" r="3.05" stroke="#A2142F" stroke-width="1" fill="none"/>
<circle cx="501.26" cy="21.47" r="3.05" stroke="#A2142F" stroke-width="1" fill="none"/>
<circle cx="516.99" cy="24.94" r="3.05" stroke="#A2142F" stroke-width="1" fill="none"/>
<circle cx="532.72" cy="32.14" r="3.05" stroke="#A2142F" stroke-width="1" fill="none"/>
<circle cx="548.45" cy="48.32" r="3.05" stroke="#A2142F" stroke-width="1" fill="none"/>
<circle cx="564.18" cy="89.33" r="3.05" stroke="#A2142F" stroke-width="1" fill="none"/>
<circle cx="579.91" cy="201.56" r="3.05" stroke="#A2142F" stroke-width="1" fill="none"/>
<circle cx="595.64" cy="149.64" r="3.05" stroke="#A2142F" stroke-width="1" fill="none"/>
<circle cx="611.37" cy="87.29" r="3.05" stroke="#A2142F" stroke-width="1" fill="none"/>
<circle cx="627.1" cy="62.95" r="3.05" stroke="#A2142F" stroke-width="1" fill="none"/>
<circle cx="642.83" cy="50.12" r="3.05" stroke="#A2142F" stroke-width="1" fill="none"/>
<circle cx="658.56" cy="42.93" r="3.05" stroke="#A2142F" stroke-width="1" fill="none"/>
<circle cx="674.29" cy="38.37" r="3.05" stroke="#A2142F" stroke-width="1" fill="none"/>
<circle cx="690.02" cy="35.49" r="3.05" stroke="#A2142F" stroke-width="1" fill="none"/>
<circle cx="705.75" cy="34.06" r="3.05" stroke="#A2142F" stroke-width="1" fill="none"/>
<circle cx="721.48" cy="32.62" r="3.05" stroke="#A2142F" stroke-width="1" fill="none"/>
<circle cx="737.21" cy="31.42" r="3.05" stroke="#A2142F" stroke-width="1" fill="none"/>
<circle cx="752.94" cy="31.18" r="3.05" stroke="#A2142F" stroke-width="1" fill="none"/>
<circle cx="768.67" cy="31.42" r="3.05" stroke="#A2142F" stroke-width="1" fill="none"/>
<circle cx="784.4" cy="32.02" r="3.05" stroke="#A2142F" stroke-width="1" fill="none"/>
<polyline points="469.8,18.23 485.53,19.43 501.26,21.47 516.99,23.98 532.72,29.74 548.45,41.49 564.18,77.7 579.91,171.22 595.64,159.83 611.37,88.37 627.1,62.95 642.83,50.12 658.56,42.93 674.29,38.37 690.02,35.49 705.75,34.06 721.48,32.62 737.21,31.42 752.94,31.18 768.67,31.42 784.4,32.02" fill="none" stroke="#0072BD" stroke-width="1.1" stroke-dasharray="4.1 3.7"/>
<path d="M466.6 18.23L473 18.23M469.8 15.03L469.8 21.43" stroke="#0072BD" stroke-width="1" fill="none"/>
<path d="M482.33 19.43L488.73 19.43M485.53 16.23L485.53 22.63" stroke="#0072BD" stroke-width="1" fill="none"/>
<path d="M498.06 21.47L504.46 21.47M501.26 18.27L501.26 24.67" stroke="#0072BD" stroke-width="1" fill="none"/>
<path d="M513.79 23.98L520.19 23.98M516.99 20.78L516.99 27.18" stroke="#0072BD" stroke-width="1" fill="none"/>
<path d="M529.52 29.74L535.92 29.74M532.72 26.54L532.72 32.94" stroke="#0072BD" stroke-width="1" fill="none"/>
<path d="M545.25 41.49L551.65 41.49M548.45 38.29L548.45 44.69" stroke="#0072BD" stroke-width="1" fill="none"/>
<path d="M560.98 77.7L567.38 77.7M564.18 74.5L564.18 80.9" stroke="#0072BD" stroke-width="1" fill="none"/>
<path d="M576.71 171.22L583.11 171.22M579.91 168.02L579.91 174.42" stroke="#0072BD" stroke-width="1" fill="none"/>
<path d="M592.44 159.83L598.84 159.83M595.64 156.63L595.64 163.03" stroke="#0072BD" stroke-width="1" fill="none"/>
<path d="M608.17 88.37L614.57 88.37M611.37 85.17L611.37 91.57" stroke="#0072BD" stroke-width="1" fill="none"/>
<path d="M623.9 62.95L630.3 62.95M627.1 59.75L627.1 66.15" stroke="#0072BD" stroke-width="1" fill="none"/>
<path d="M639.63 50.12L646.03 50.12M642.83 46.92L642.83 53.32" stroke="#0072BD" stroke-width="1" fill="none"/>
<path d="M655.36 42.93L661.76 42.93M658.56 39.73L658.56 46.13" stroke="#0072BD" stroke-width="1" fill="none"/>
<path d="M671.09 38.37L677.49 38.37M674.29 35.17L674.29 41.57" stroke="#0072BD" stroke-width="1" fill="none"/>
<path d="M686.82 35.49L693.22 35.49M690.02 32.29L690.02 38.69" stroke="#0072BD" stroke-width="1" fill="none"/>
<path d="M702.55 34.06L708.95 34.06M705.75 30.86L705.75 37.26" stroke="#0072BD" stroke-width="1" fill="none"/>
<path d="M718.28 32.62L724.68 32.62M721.48 29.42L721.48 35.82" stroke="#0072BD" stroke-width="1" fill="none"/>
<path d="M734.01 31.42L740.41 31.42M737.21 28.22L737.21 34.62" stroke="#0072BD" stroke-width="1" fill="none"/>
<path d="M749.74 31.18L756.14 31.18M752.94 27.98L752.94 34.38" stroke="#0072BD" stroke-width="1" fill="none"/>
<path d="M765.47 31.42L771.87 31.42M768.67 28.22L768.67 34.62" stroke="#0072BD" stroke-width="1" fill="none"/>
<path d="M781.2 32.02L787.6 32.02M784.4 28.82L784.4 35.22" stroke="#0072BD" stroke-width="1" fill="none"/>
</g>
<rect x="469.8" y="16.55" width="314.6" height="239.8" fill="none" stroke="#262626" stroke-width="0.7"/>
<text transform="translate(469.8 274) scale(0.885 1)" text-anchor="middle" class="tk">0.5</text>
<line x1="574.67" y1="256.35" x2="574.67" y2="253.15000000000003" stroke="#262626" stroke-width="0.7"/>
<line x1="574.67" y1="16.55" x2="574.67" y2="19.75" stroke="#262626" stroke-width="0.7"/>
<text transform="translate(574.67 274) scale(0.885 1)" text-anchor="middle" class="tk">1</text>
<line x1="679.53" y1="256.35" x2="679.53" y2="253.15000000000003" stroke="#262626" stroke-width="0.7"/>
<line x1="679.53" y1="16.55" x2="679.53" y2="19.75" stroke="#262626" stroke-width="0.7"/>
<text transform="translate(679.53 274) scale(0.885 1)" text-anchor="middle" class="tk">1.5</text>
<text transform="translate(784.4 274) scale(0.885 1)" text-anchor="middle" class="tk">2</text>
<text transform="translate(464 21.85) scale(0.885 1)" text-anchor="end" class="tk">0</text>
<line x1="469.8" y1="76.5" x2="473" y2="76.5" stroke="#262626" stroke-width="0.7"/>
<line x1="784.4" y1="76.5" x2="781.2" y2="76.5" stroke="#262626" stroke-width="0.7"/>
<text transform="translate(464 81.8) scale(0.885 1)" text-anchor="end" class="tk">-5</text>
<line x1="469.8" y1="136.45" x2="473" y2="136.45" stroke="#262626" stroke-width="0.7"/>
<line x1="784.4" y1="136.45" x2="781.2" y2="136.45" stroke="#262626" stroke-width="0.7"/>
<text transform="translate(464 141.75) scale(0.885 1)" text-anchor="end" class="tk">-10</text>
<line x1="469.8" y1="196.4" x2="473" y2="196.4" stroke="#262626" stroke-width="0.7"/>
<line x1="784.4" y1="196.4" x2="781.2" y2="196.4" stroke="#262626" stroke-width="0.7"/>
<text transform="translate(464 201.7) scale(0.885 1)" text-anchor="end" class="tk">-15</text>
<text transform="translate(464 261.65) scale(0.885 1)" text-anchor="end" class="tk">-20</text>
<text transform="translate(625.9 295.2) scale(0.945 1)" text-anchor="middle" class="lb" style="font-size:15.8px">Frequency (GHz)</text>
<text transform="translate(433.4 136.45) rotate(-90)" text-anchor="middle" class="lb" style="font-size:15.5px">S<tspan dy="8.4" style="font-size:11px">11</tspan><tspan dy="-8.4">(dB)</tspan></text>
<text y="338.3" class="cp"><tspan x="599.3">(</tspan><tspan x="610.7" font-weight="bold">b</tspan><tspan x="630.2">)</tspan></text>
<rect x="689.5" y="135.6" width="87.0" height="112.9" fill="#fff" stroke="#262626" stroke-width="0.7"/>
<line x1="692.3" y1="143.7" x2="719.3" y2="143.7" stroke="#0072BD" stroke-width="1.1" stroke-dasharray="4 3.9"/>
<path d="M706.7 139.6L710.3 145.8L703.1 145.8Z" stroke="#0072BD" stroke-width="1" fill="none"/>
<text x="723.5" y="147.8" class="lg">Antenna 1</text>
<line x1="692.3" y1="157.55" x2="719.3" y2="157.55" stroke="#D95319" stroke-width="1.1" stroke-dasharray="4 3.9"/>
<path d="M706.7 153.35L709.7 157.55L706.7 161.75L703.7 157.55Z" stroke="#D95319" stroke-width="1" fill="none"/>
<text x="723.5" y="161.65" class="lg">Antenna 2</text>
<line x1="692.3" y1="171.4" x2="719.3" y2="171.4" stroke="#EDB120" stroke-width="1.1" stroke-dasharray="4 3.9"/>
<rect x="704.5" y="169.2" width="4.4" height="4.4" stroke="#EDB120" stroke-width="1" fill="none"/>
<text x="723.5" y="175.5" class="lg">Antenna 3</text>
<line x1="692.3" y1="185.25" x2="719.3" y2="185.25" stroke="#7E2F8E" stroke-width="1.1" stroke-dasharray="4 3.9"/>
<path d="M704.6 183.15L708.8 187.35M704.6 187.35L708.8 183.15" stroke="#7E2F8E" stroke-width="1.2" fill="none"/>
<text x="723.5" y="189.35" class="lg">Antenna 4</text>
<line x1="692.3" y1="199.1" x2="719.3" y2="199.1" stroke="#77AC30" stroke-width="1.1" stroke-dasharray="4 3.9"/>
<circle cx="706.7" cy="199.1" r="0.9" fill="#77AC30"/>
<text x="723.5" y="203.2" class="lg">Antenna 5</text>
<line x1="692.3" y1="212.95" x2="719.3" y2="212.95" stroke="#4DBEEE" stroke-width="1.1" stroke-dasharray="4 3.9"/>
<path d="M704.3 212.95L709.1 212.95M706.7 210.55L706.7 215.35M705 211.25L708.4 214.65M705 214.65L708.4 211.25" stroke="#4DBEEE" stroke-width="1.2" fill="none"/>
<text x="723.5" y="217.05" class="lg">Antenna 6</text>
<line x1="692.3" y1="226.8" x2="719.3" y2="226.8" stroke="#A2142F" stroke-width="1.1" stroke-dasharray="4 3.9"/>
<circle cx="706.7" cy="226.8" r="3.05" stroke="#A2142F" stroke-width="1" fill="none"/>
<text x="723.5" y="230.9" class="lg">Antenna 7</text>
<line x1="692.3" y1="240.65" x2="719.3" y2="240.65" stroke="#0072BD" stroke-width="1.1" stroke-dasharray="4 3.9"/>
<path d="M703.5 240.65L709.9 240.65M706.7 237.45L706.7 243.85" stroke="#0072BD" stroke-width="1" fill="none"/>
<text x="723.5" y="244.75" class="lg">Antenna 8</text>
</g>
<g>
<line x1="988.52" y1="16.55" x2="988.52" y2="256.35" stroke="#e2e2e2" stroke-width="1"/>
<line x1="1093.38" y1="16.55" x2="1093.38" y2="256.35" stroke="#e2e2e2" stroke-width="1"/>
<line x1="883.65" y1="76.5" x2="1198.25" y2="76.5" stroke="#e2e2e2" stroke-width="1"/>
<line x1="883.65" y1="136.45" x2="1198.25" y2="136.45" stroke="#e2e2e2" stroke-width="1"/>
<line x1="883.65" y1="196.4" x2="1198.25" y2="196.4" stroke="#e2e2e2" stroke-width="1"/>
<clipPath id="cp3"><rect x="878.65" y="11.55" width="324.6" height="244.8"/></clipPath>
<g clip-path="url(#cp3)">
<polyline points="883.65,18.59 899.38,20.03 915.11,22.31 930.84,25.42 946.57,32.62 962.3,50.12 978.03,98.08 993.76,247.96 1009.49,144.84 1025.22,85.61 1040.95,60.67 1056.68,47.72 1072.41,40.53 1088.14,36.69 1103.87,34.06 1119.6,32.98 1135.33,32.38 1151.06,31.78 1166.79,31.42 1182.52,31.42 1198.25,32.5" fill="none" stroke="#0072BD" stroke-width="1.1" stroke-dasharray="4.1 3.7"/>
<path d="M883.65 14.49L887.25 20.69L880.05 20.69Z" stroke="#0072BD" stroke-width="1" fill="none"/>
<path d="M899.38 15.93L902.98 22.13L895.78 22.13Z" stroke="#0072BD" stroke-width="1" fill="none"/>
<path d="M915.11 18.21L918.71 24.41L911.51 24.41Z" stroke="#0072BD" stroke-width="1" fill="none"/>
<path d="M930.84 21.32L934.44 27.52L927.24 27.52Z" stroke="#0072BD" stroke-width="1" fill="none"/>
<path d="M946.57 28.52L950.17 34.72L942.97 34.72Z" stroke="#0072BD" stroke-width="1" fill="none"/>
<path d="M962.3 46.02L965.9 52.22L958.7 52.22Z" stroke="#0072BD" stroke-width="1" fill="none"/>
<path d="M978.03 93.98L981.63 100.18L974.43 100.18Z" stroke="#0072BD" stroke-width="1" fill="none"/>
<path d="M993.76 243.86L997.36 250.06L990.16 250.06Z" stroke="#0072BD" stroke-width="1" fill="none"/>
<path d="M1009.49 140.74L1013.09 146.94L1005.89 146.94Z" stroke="#0072BD" stroke-width="1" fill="none"/>
<path d="M1025.22 81.51L1028.82 87.71L1021.62 87.71Z" stroke="#0072BD" stroke-width="1" fill="none"/>
<path d="M1040.95 56.57L1044.55 62.77L1037.35 62.77Z" stroke="#0072BD" stroke-width="1" fill="none"/>
<path d="M1056.68 43.62L1060.28 49.82L1053.08 49.82Z" stroke="#0072BD" stroke-width="1" fill="none"/>
<path d="M1072.41 36.43L1076.01 42.63L1068.81 42.63Z" stroke="#0072BD" stroke-width="1" fill="none"/>
<path d="M1088.14 32.59L1091.74 38.79L1084.54 38.79Z" stroke="#0072BD" stroke-width="1" fill="none"/>
<path d="M1103.87 29.96L1107.47 36.16L1100.27 36.16Z" stroke="#0072BD" stroke-width="1" fill="none"/>
<path d="M1119.6 28.88L1123.2 35.08L1116 35.08Z" stroke="#0072BD" stroke-width="1" fill="none"/>
<path d="M1135.33 28.28L1138.93 34.48L1131.73 34.48Z" stroke="#0072BD" stroke-width="1" fill="none"/>
<path d="M1151.06 27.68L1154.66 33.88L1147.46 33.88Z" stroke="#0072BD" stroke-width="1" fill="none"/>
<path d="M1166.79 27.32L1170.39 33.52L1163.19 33.52Z" stroke="#0072BD" stroke-width="1" fill="none"/>
<path d="M1182.52 27.32L1186.12 33.52L1178.92 33.52Z" stroke="#0072BD" stroke-width="1" fill="none"/>
<path d="M1198.25 28.4L1201.85 34.6L1194.65 34.6Z" stroke="#0072BD" stroke-width="1" fill="none"/>
<polyline points="883.65,18.59 899.38,20.03 915.11,22.31 930.84,25.42 946.57,32.62 962.3,52.04 978.03,106.24 993.76,228.77 1009.49,112.47 1025.22,69.31 1040.95,52.52 1056.68,43.53 1072.41,38.61 1088.14,35.73 1103.87,34.06 1119.6,32.98 1135.33,32.38 1151.06,32.38 1166.79,33.22 1182.52,34.89 1198.25,36.93" fill="none" stroke="#D95319" stroke-width="1.1" stroke-dasharray="4.1 3.7"/>
<path d="M883.65 14.39L886.65 18.59L883.65 22.79L880.65 18.59Z" stroke="#D95319" stroke-width="1" fill="none"/>
<path d="M899.38 15.83L902.38 20.03L899.38 24.23L896.38 20.03Z" stroke="#D95319" stroke-width="1" fill="none"/>
<path d="M915.11 18.11L918.11 22.31L915.11 26.51L912.11 22.31Z" stroke="#D95319" stroke-width="1" fill="none"/>
<path d="M930.84 21.22L933.84 25.42L930.84 29.62L927.84 25.42Z" stroke="#D95319" stroke-width="1" fill="none"/>
<path d="M946.57 28.42L949.57 32.62L946.57 36.82L943.57 32.62Z" stroke="#D95319" stroke-width="1" fill="none"/>
<path d="M962.3 47.84L965.3 52.04L962.3 56.24L959.3 52.04Z" stroke="#D95319" stroke-width="1" fill="none"/>
<path d="M978.03 102.04L981.03 106.24L978.03 110.44L975.03 106.24Z" stroke="#D95319" stroke-width="1" fill="none"/>
<path d="M993.76 224.57L996.76 228.77L993.76 232.97L990.76 228.77Z" stroke="#D95319" stroke-width="1" fill="none"/>
<path d="M1009.49 108.27L1012.49 112.47L1009.49 116.67L1006.49 112.47Z" stroke="#D95319" stroke-width="1" fill="none"/>
<path d="M1025.22 65.11L1028.22 69.31L1025.22 73.51L1022.22 69.31Z" stroke="#D95319" stroke-width="1" fill="none"/>
<path d="M1040.95 48.32L1043.95 52.52L1040.95 56.72L1037.95 52.52Z" stroke="#D95319" stroke-width="1" fill="none"/>
<path d="M1056.68 39.33L1059.68 43.53L1056.68 47.73L1053.68 43.53Z" stroke="#D95319" stroke-width="1" fill="none"/>
<path d="M1072.41 34.41L1075.41 38.61L1072.41 42.81L1069.41 38.61Z" stroke="#D95319" stroke-width="1" fill="none"/>
<path d="M1088.14 31.53L1091.14 35.73L1088.14 39.93L1085.14 35.73Z" stroke="#D95319" stroke-width="1" fill="none"/>
<path d="M1103.87 29.86L1106.87 34.06L1103.87 38.26L1100.87 34.06Z" stroke="#D95319" stroke-width="1" fill="none"/>
<path d="M1119.6 28.78L1122.6 32.98L1119.6 37.18L1116.6 32.98Z" stroke="#D95319" stroke-width="1" fill="none"/>
<path d="M1135.33 28.18L1138.33 32.38L1135.33 36.58L1132.33 32.38Z" stroke="#D95319" stroke-width="1" fill="none"/>
<path d="M1151.06 28.18L1154.06 32.38L1151.06 36.58L1148.06 32.38Z" stroke="#D95319" stroke-width="1" fill="none"/>
<path d="M1166.79 29.02L1169.79 33.22L1166.79 37.42L1163.79 33.22Z" stroke="#D95319" stroke-width="1" fill="none"/>
<path d="M1182.52 30.69L1185.52 34.89L1182.52 39.09L1179.52 34.89Z" stroke="#D95319" stroke-width="1" fill="none"/>
<path d="M1198.25 32.73L1201.25 36.93L1198.25 41.13L1195.25 36.93Z" stroke="#D95319" stroke-width="1" fill="none"/>
<polyline points="883.65,18.59 899.38,20.03 915.11,22.31 930.84,25.42 946.57,32.62 962.3,52.04 978.03,107.67 993.76,232.37 1009.49,116.07 1025.22,71.1 1040.95,52.52 1056.68,43.53 1072.41,38.61 1088.14,35.73 1103.87,34.06 1119.6,32.98 1135.33,32.38 1151.06,32.38 1166.79,33.22 1182.52,34.89 1198.25,36.93" fill="none" stroke="#EDB120" stroke-width="1.1" stroke-dasharray="4.1 3.7"/>
<rect x="881.45" y="16.39" width="4.4" height="4.4" stroke="#EDB120" stroke-width="1" fill="none"/>
<rect x="897.18" y="17.83" width="4.4" height="4.4" stroke="#EDB120" stroke-width="1" fill="none"/>
<rect x="912.91" y="20.11" width="4.4" height="4.4" stroke="#EDB120" stroke-width="1" fill="none"/>
<rect x="928.64" y="23.22" width="4.4" height="4.4" stroke="#EDB120" stroke-width="1" fill="none"/>
<rect x="944.37" y="30.42" width="4.4" height="4.4" stroke="#EDB120" stroke-width="1" fill="none"/>
<rect x="960.1" y="49.84" width="4.4" height="4.4" stroke="#EDB120" stroke-width="1" fill="none"/>
<rect x="975.83" y="105.47" width="4.4" height="4.4" stroke="#EDB120" stroke-width="1" fill="none"/>
<rect x="991.56" y="230.17" width="4.4" height="4.4" stroke="#EDB120" stroke-width="1" fill="none"/>
<rect x="1007.29" y="113.87" width="4.4" height="4.4" stroke="#EDB120" stroke-width="1" fill="none"/>
<rect x="1023.02" y="68.9" width="4.4" height="4.4" stroke="#EDB120" stroke-width="1" fill="none"/>
<rect x="1038.75" y="50.32" width="4.4" height="4.4" stroke="#EDB120" stroke-width="1" fill="none"/>
<rect x="1054.48" y="41.33" width="4.4" height="4.4" stroke="#EDB120" stroke-width="1" fill="none"/>
<rect x="1070.21" y="36.41" width="4.4" height="4.4" stroke="#EDB120" stroke-width="1" fill="none"/>
<rect x="1085.94" y="33.53" width="4.4" height="4.4" stroke="#EDB120" stroke-width="1" fill="none"/>
<rect x="1101.67" y="31.86" width="4.4" height="4.4" stroke="#EDB120" stroke-width="1" fill="none"/>
<rect x="1117.4" y="30.78" width="4.4" height="4.4" stroke="#EDB120" stroke-width="1" fill="none"/>
<rect x="1133.13" y="30.18" width="4.4" height="4.4" stroke="#EDB120" stroke-width="1" fill="none"/>
<rect x="1148.86" y="30.18" width="4.4" height="4.4" stroke="#EDB120" stroke-width="1" fill="none"/>
<rect x="1164.59" y="31.02" width="4.4" height="4.4" stroke="#EDB120" stroke-width="1" fill="none"/>
<rect x="1180.32" y="32.69" width="4.4" height="4.4" stroke="#EDB120" stroke-width="1" fill="none"/>
<rect x="1196.05" y="34.73" width="4.4" height="4.4" stroke="#EDB120" stroke-width="1" fill="none"/>
<polyline points="883.65,18.59 899.38,20.03 915.11,22.31 930.84,25.42 946.57,32.62 962.3,52.04 978.03,111.27 993.76,226.38 1009.49,112.71 1025.22,69.31 1040.95,52.52 1056.68,43.53 1072.41,38.61 1088.14,35.73 1103.87,34.06 1119.6,32.98 1135.33,32.38 1151.06,32.38 1166.79,33.22 1182.52,34.89 1198.25,36.93" fill="none" stroke="#7E2F8E" stroke-width="1.1" stroke-dasharray="4.1 3.7"/>
<path d="M881.55 16.49L885.75 20.69M881.55 20.69L885.75 16.49" stroke="#7E2F8E" stroke-width="1.2" fill="none"/>
<path d="M897.28 17.93L901.48 22.13M897.28 22.13L901.48 17.93" stroke="#7E2F8E" stroke-width="1.2" fill="none"/>
<path d="M913.01 20.21L917.21 24.41M913.01 24.41L917.21 20.21" stroke="#7E2F8E" stroke-width="1.2" fill="none"/>
<path d="M928.74 23.32L932.94 27.52M928.74 27.52L932.94 23.32" stroke="#7E2F8E" stroke-width="1.2" fill="none"/>
<path d="M944.47 30.52L948.67 34.72M944.47 34.72L948.67 30.52" stroke="#7E2F8E" stroke-width="1.2" fill="none"/>
<path d="M960.2 49.94L964.4 54.14M960.2 54.14L964.4 49.94" stroke="#7E2F8E" stroke-width="1.2" fill="none"/>
<path d="M975.93 109.17L980.13 113.37M975.93 113.37L980.13 109.17" stroke="#7E2F8E" stroke-width="1.2" fill="none"/>
<path d="M991.66 224.28L995.86 228.48M991.66 228.48L995.86 224.28" stroke="#7E2F8E" stroke-width="1.2" fill="none"/>
<path d="M1007.39 110.61L1011.59 114.81M1007.39 114.81L1011.59 110.61" stroke="#7E2F8E" stroke-width="1.2" fill="none"/>
<path d="M1023.12 67.21L1027.32 71.41M1023.12 71.41L1027.32 67.21" stroke="#7E2F8E" stroke-width="1.2" fill="none"/>
<path d="M1038.85 50.42L1043.05 54.62M1038.85 54.62L1043.05 50.42" stroke="#7E2F8E" stroke-width="1.2" fill="none"/>
<path d="M1054.58 41.43L1058.78 45.63M1054.58 45.63L1058.78 41.43" stroke="#7E2F8E" stroke-width="1.2" fill="none"/>
<path d="M1070.31 36.51L1074.51 40.71M1070.31 40.71L1074.51 36.51" stroke="#7E2F8E" stroke-width="1.2" fill="none"/>
<path d="M1086.04 33.63L1090.24 37.83M1086.04 37.83L1090.24 33.63" stroke="#7E2F8E" stroke-width="1.2" fill="none"/>
<path d="M1101.77 31.96L1105.97 36.16M1101.77 36.16L1105.97 31.96" stroke="#7E2F8E" stroke-width="1.2" fill="none"/>
<path d="M1117.5 30.88L1121.7 35.08M1117.5 35.08L1121.7 30.88" stroke="#7E2F8E" stroke-width="1.2" fill="none"/>
<path d="M1133.23 30.28L1137.43 34.48M1133.23 34.48L1137.43 30.28" stroke="#7E2F8E" stroke-width="1.2" fill="none"/>
<path d="M1148.96 30.28L1153.16 34.48M1148.96 34.48L1153.16 30.28" stroke="#7E2F8E" stroke-width="1.2" fill="none"/>
<path d="M1164.69 31.12L1168.89 35.32M1164.69 35.32L1168.89 31.12" stroke="#7E2F8E" stroke-width="1.2" fill="none"/>
<path d="M1180.42 32.79L1184.62 36.99M1180.42 36.99L1184.62 32.79" stroke="#7E2F8E" stroke-width="1.2" fill="none"/>
<path d="M1196.15 34.83L1200.35 39.03M1196.15 39.03L1200.35 34.83" stroke="#7E2F8E" stroke-width="1.2" fill="none"/>
<polyline points="883.65,18.59 899.38,20.03 915.11,22.31 930.84,25.42 946.57,32.62 962.3,52.04 978.03,102.88 993.76,261.15 1009.49,131.65 1025.22,78.9 1040.95,57.32 1056.68,45.93 1072.41,38.61 1088.14,35.73 1103.87,34.06 1119.6,32.98 1135.33,32.38 1151.06,32.38 1166.79,33.22 1182.52,34.89 1198.25,36.93" fill="none" stroke="#77AC30" stroke-width="1.1" stroke-dasharray="4.1 3.7"/>
<circle cx="883.65" cy="18.59" r="0.9" fill="#77AC30"/>
<circle cx="899.38" cy="20.03" r="0.9" fill="#77AC30"/>
<circle cx="915.11" cy="22.31" r="0.9" fill="#77AC30"/>
<circle cx="930.84" cy="25.42" r="0.9" fill="#77AC30"/>
<circle cx="946.57" cy="32.62" r="0.9" fill="#77AC30"/>
<circle cx="962.3" cy="52.04" r="0.9" fill="#77AC30"/>
<circle cx="978.03" cy="102.88" r="0.9" fill="#77AC30"/>
<circle cx="1009.49" cy="131.65" r="0.9" fill="#77AC30"/>
<circle cx="1025.22" cy="78.9" r="0.9" fill="#77AC30"/>
<circle cx="1040.95" cy="57.32" r="0.9" fill="#77AC30"/>
<circle cx="1056.68" cy="45.93" r="0.9" fill="#77AC30"/>
<circle cx="1072.41" cy="38.61" r="0.9" fill="#77AC30"/>
<circle cx="1088.14" cy="35.73" r="0.9" fill="#77AC30"/>
<circle cx="1103.87" cy="34.06" r="0.9" fill="#77AC30"/>
<circle cx="1119.6" cy="32.98" r="0.9" fill="#77AC30"/>
<circle cx="1135.33" cy="32.38" r="0.9" fill="#77AC30"/>
<circle cx="1151.06" cy="32.38" r="0.9" fill="#77AC30"/>
<circle cx="1166.79" cy="33.22" r="0.9" fill="#77AC30"/>
<circle cx="1182.52" cy="34.89" r="0.9" fill="#77AC30"/>
<circle cx="1198.25" cy="36.93" r="0.9" fill="#77AC30"/>
<polyline points="883.65,18.59 899.38,20.03 915.11,22.31 930.84,25.42 946.57,32.62 962.3,52.04 978.03,111.87 993.76,225.18 1009.49,111.27 1025.22,69.31 1040.95,52.52 1056.68,43.53 1072.41,38.61 1088.14,35.73 1103.87,34.06 1119.6,32.98 1135.33,32.38 1151.06,33.34 1166.79,34.77 1182.52,36.93 1198.25,38.73" fill="none" stroke="#4DBEEE" stroke-width="1.1" stroke-dasharray="4.1 3.7"/>
<path d="M881.25 18.59L886.05 18.59M883.65 16.19L883.65 20.99M881.95 16.89L885.35 20.29M881.95 20.29L885.35 16.89" stroke="#4DBEEE" stroke-width="1.2" fill="none"/>
<path d="M896.98 20.03L901.78 20.03M899.38 17.63L899.38 22.43M897.68 18.33L901.08 21.73M897.68 21.73L901.08 18.33" stroke="#4DBEEE" stroke-width="1.2" fill="none"/>
<path d="M912.71 22.31L917.51 22.31M915.11 19.91L915.11 24.71M913.41 20.61L916.81 24.01M913.41 24.01L916.81 20.61" stroke="#4DBEEE" stroke-width="1.2" fill="none"/>
<path d="M928.44 25.42L933.24 25.42M930.84 23.02L930.84 27.82M929.14 23.72L932.54 27.12M929.14 27.12L932.54 23.72" stroke="#4DBEEE" stroke-width="1.2" fill="none"/>
<path d="M944.17 32.62L948.97 32.62M946.57 30.22L946.57 35.02M944.87 30.92L948.27 34.32M944.87 34.32L948.27 30.92" stroke="#4DBEEE" stroke-width="1.2" fill="none"/>
<path d="M959.9 52.04L964.7 52.04M962.3 49.64L962.3 54.44M960.6 50.34L964 53.74M960.6 53.74L964 50.34" stroke="#4DBEEE" stroke-width="1.2" fill="none"/>
<path d="M975.63 111.87L980.43 111.87M978.03 109.47L978.03 114.27M976.33 110.17L979.73 113.57M976.33 113.57L979.73 110.17" stroke="#4DBEEE" stroke-width="1.2" fill="none"/>
<path d="M991.36 225.18L996.16 225.18M993.76 222.78L993.76 227.58M992.06 223.48L995.46 226.88M992.06 226.88L995.46 223.48" stroke="#4DBEEE" stroke-width="1.2" fill="none"/>
<path d="M1007.09 111.27L1011.89 111.27M1009.49 108.87L1009.49 113.67M1007.79 109.57L1011.19 112.97M1007.79 112.97L1011.19 109.57" stroke="#4DBEEE" stroke-width="1.2" fill="none"/>
<path d="M1022.82 69.31L1027.62 69.31M1025.22 66.91L1025.22 71.71M1023.52 67.61L1026.92 71.01M1023.52 71.01L1026.92 67.61" stroke="#4DBEEE" stroke-width="1.2" fill="none"/>
<path d="M1038.55 52.52L1043.35 52.52M1040.95 50.12L1040.95 54.92M1039.25 50.82L1042.65 54.22M1039.25 54.22L1042.65 50.82" stroke="#4DBEEE" stroke-width="1.2" fill="none"/>
<path d="M1054.28 43.53L1059.08 43.53M1056.68 41.13L1056.68 45.93M1054.98 41.83L1058.38 45.23M1054.98 45.23L1058.38 41.83" stroke="#4DBEEE" stroke-width="1.2" fill="none"/>
<path d="M1070.01 38.61L1074.81 38.61M1072.41 36.21L1072.41 41.01M1070.71 36.91L1074.11 40.31M1070.71 40.31L1074.11 36.91" stroke="#4DBEEE" stroke-width="1.2" fill="none"/>
<path d="M1085.74 35.73L1090.54 35.73M1088.14 33.33L1088.14 38.13M1086.44 34.03L1089.84 37.43M1086.44 37.43L1089.84 34.03" stroke="#4DBEEE" stroke-width="1.2" fill="none"/>
<path d="M1101.47 34.06L1106.27 34.06M1103.87 31.66L1103.87 36.46M1102.17 32.36L1105.57 35.76M1102.17 35.76L1105.57 32.36" stroke="#4DBEEE" stroke-width="1.2" fill="none"/>
<path d="M1117.2 32.98L1122 32.98M1119.6 30.58L1119.6 35.38M1117.9 31.28L1121.3 34.68M1117.9 34.68L1121.3 31.28" stroke="#4DBEEE" stroke-width="1.2" fill="none"/>
<path d="M1132.93 32.38L1137.73 32.38M1135.33 29.98L1135.33 34.78M1133.63 30.68L1137.03 34.08M1133.63 34.08L1137.03 30.68" stroke="#4DBEEE" stroke-width="1.2" fill="none"/>
<path d="M1148.66 33.34L1153.46 33.34M1151.06 30.94L1151.06 35.74M1149.36 31.64L1152.76 35.04M1149.36 35.04L1152.76 31.64" stroke="#4DBEEE" stroke-width="1.2" fill="none"/>
<path d="M1164.39 34.77L1169.19 34.77M1166.79 32.37L1166.79 37.17M1165.09 33.07L1168.49 36.47M1165.09 36.47L1168.49 33.07" stroke="#4DBEEE" stroke-width="1.2" fill="none"/>
<path d="M1180.12 36.93L1184.92 36.93M1182.52 34.53L1182.52 39.33M1180.82 35.23L1184.22 38.63M1180.82 38.63L1184.22 35.23" stroke="#4DBEEE" stroke-width="1.2" fill="none"/>
<path d="M1195.85 38.73L1200.65 38.73M1198.25 36.33L1198.25 41.13M1196.55 37.03L1199.95 40.43M1196.55 40.43L1199.95 37.03" stroke="#4DBEEE" stroke-width="1.2" fill="none"/>
<polyline points="883.65,18.59 899.38,20.03 915.11,22.31 930.84,26.86 946.57,36.93 962.3,61.51 978.03,131.53 993.76,219.18 1009.49,105.76 1025.22,68.71 1040.95,52.52 1056.68,43.53 1072.41,38.61 1088.14,35.73 1103.87,34.06 1119.6,32.98 1135.33,32.38 1151.06,32.38 1166.79,33.22 1182.52,34.89 1198.25,36.93" fill="none" stroke="#A2142F" stroke-width="1.1" stroke-dasharray="4.1 3.7"/>
<circle cx="883.65" cy="18.59" r="3.05" stroke="#A2142F" stroke-width="1" fill="none"/>
<circle cx="899.38" cy="20.03" r="3.05" stroke="#A2142F" stroke-width="1" fill="none"/>
<circle cx="915.11" cy="22.31" r="3.05" stroke="#A2142F" stroke-width="1" fill="none"/>
<circle cx="930.84" cy="26.86" r="3.05" stroke="#A2142F" stroke-width="1" fill="none"/>
<circle cx="946.57" cy="36.93" r="3.05" stroke="#A2142F" stroke-width="1" fill="none"/>
<circle cx="962.3" cy="61.51" r="3.05" stroke="#A2142F" stroke-width="1" fill="none"/>
<circle cx="978.03" cy="131.53" r="3.05" stroke="#A2142F" stroke-width="1" fill="none"/>
<circle cx="993.76" cy="219.18" r="3.05" stroke="#A2142F" stroke-width="1" fill="none"/>
<circle cx="1009.49" cy="105.76" r="3.05" stroke="#A2142F" stroke-width="1" fill="none"/>
<circle cx="1025.22" cy="68.71" r="3.05" stroke="#A2142F" stroke-width="1" fill="none"/>
<circle cx="1040.95" cy="52.52" r="3.05" stroke="#A2142F" stroke-width="1" fill="none"/>
<circle cx="1056.68" cy="43.53" r="3.05" stroke="#A2142F" stroke-width="1" fill="none"/>
<circle cx="1072.41" cy="38.61" r="3.05" stroke="#A2142F" stroke-width="1" fill="none"/>
<circle cx="1088.14" cy="35.73" r="3.05" stroke="#A2142F" stroke-width="1" fill="none"/>
<circle cx="1103.87" cy="34.06" r="3.05" stroke="#A2142F" stroke-width="1" fill="none"/>
<circle cx="1119.6" cy="32.98" r="3.05" stroke="#A2142F" stroke-width="1" fill="none"/>
<circle cx="1135.33" cy="32.38" r="3.05" stroke="#A2142F" stroke-width="1" fill="none"/>
<circle cx="1151.06" cy="32.38" r="3.05" stroke="#A2142F" stroke-width="1" fill="none"/>
<circle cx="1166.79" cy="33.22" r="3.05" stroke="#A2142F" stroke-width="1" fill="none"/>
<circle cx="1182.52" cy="34.89" r="3.05" stroke="#A2142F" stroke-width="1" fill="none"/>
<circle cx="1198.25" cy="36.93" r="3.05" stroke="#A2142F" stroke-width="1" fill="none"/>
<polyline points="883.65,18.59 899.38,20.03 915.11,22.31 930.84,25.42 946.57,32.62 962.3,52.04 978.03,110.91 993.76,228.77 1009.49,112.71 1025.22,69.31 1040.95,52.52 1056.68,43.53 1072.41,38.61 1088.14,35.73 1103.87,34.06 1119.6,32.98 1135.33,32.38 1151.06,32.38 1166.79,33.22 1182.52,34.89 1198.25,36.93" fill="none" stroke="#0072BD" stroke-width="1.1" stroke-dasharray="4.1 3.7"/>
<path d="M880.45 18.59L886.85 18.59M883.65 15.39L883.65 21.79" stroke="#0072BD" stroke-width="1" fill="none"/>
<path d="M896.18 20.03L902.58 20.03M899.38 16.83L899.38 23.23" stroke="#0072BD" stroke-width="1" fill="none"/>
<path d="M911.91 22.31L918.31 22.31M915.11 19.11L915.11 25.51" stroke="#0072BD" stroke-width="1" fill="none"/>
<path d="M927.64 25.42L934.04 25.42M930.84 22.22L930.84 28.62" stroke="#0072BD" stroke-width="1" fill="none"/>
<path d="M943.37 32.62L949.77 32.62M946.57 29.42L946.57 35.82" stroke="#0072BD" stroke-width="1" fill="none"/>
<path d="M959.1 52.04L965.5 52.04M962.3 48.84L962.3 55.24" stroke="#0072BD" stroke-width="1" fill="none"/>
<path d="M974.83 110.91L981.23 110.91M978.03 107.71L978.03 114.11" stroke="#0072BD" stroke-width="1" fill="none"/>
<path d="M990.56 228.77L996.96 228.77M993.76 225.57L993.76 231.97" stroke="#0072BD" stroke-width="1" fill="none"/>
<path d="M1006.29 112.71L1012.69 112.71M1009.49 109.51L1009.49 115.91" stroke="#0072BD" stroke-width="1" fill="none"/>
<path d="M1022.02 69.31L1028.42 69.31M1025.22 66.11L1025.22 72.51" stroke="#0072BD" stroke-width="1" fill="none"/>
<path d="M1037.75 52.52L1044.15 52.52M1040.95 49.32L1040.95 55.72" stroke="#0072BD" stroke-width="1" fill="none"/>
<path d="M1053.48 43.53L1059.88 43.53M1056.68 40.33L1056.68 46.73" stroke="#0072BD" stroke-width="1" fill="none"/>
<path d="M1069.21 38.61L1075.61 38.61M1072.41 35.41L1072.41 41.81" stroke="#0072BD" stroke-width="1" fill="none"/>
<path d="M1084.94 35.73L1091.34 35.73M1088.14 32.53L1088.14 38.93" stroke="#0072BD" stroke-width="1" fill="none"/>
<path d="M1100.67 34.06L1107.07 34.06M1103.87 30.86L1103.87 37.26" stroke="#0072BD" stroke-width="1" fill="none"/>
<path d="M1116.4 32.98L1122.8 32.98M1119.6 29.78L1119.6 36.18" stroke="#0072BD" stroke-width="1" fill="none"/>
<path d="M1132.13 32.38L1138.53 32.38M1135.33 29.18L1135.33 35.58" stroke="#0072BD" stroke-width="1" fill="none"/>
<path d="M1147.86 32.38L1154.26 32.38M1151.06 29.18L1151.06 35.58" stroke="#0072BD" stroke-width="1" fill="none"/>
<path d="M1163.59 33.22L1169.99 33.22M1166.79 30.02L1166.79 36.42" stroke="#0072BD" stroke-width="1" fill="none"/>
<path d="M1179.32 34.89L1185.72 34.89M1182.52 31.69L1182.52 38.09" stroke="#0072BD" stroke-width="1" fill="none"/>
<path d="M1195.05 36.93L1201.45 36.93M1198.25 33.73L1198.25 40.13" stroke="#0072BD" stroke-width="1" fill="none"/>
</g>
<rect x="883.65" y="16.55" width="314.6" height="239.8" fill="none" stroke="#262626" stroke-width="0.7"/>
<text transform="translate(883.65 274) scale(0.885 1)" text-anchor="middle" class="tk">0.5</text>
<line x1="988.52" y1="256.35" x2="988.52" y2="253.15000000000003" stroke="#262626" stroke-width="0.7"/>
<line x1="988.52" y1="16.55" x2="988.52" y2="19.75" stroke="#262626" stroke-width="0.7"/>
<text transform="translate(988.52 274) scale(0.885 1)" text-anchor="middle" class="tk">1</text>
<line x1="1093.38" y1="256.35" x2="1093.38" y2="253.15000000000003" stroke="#262626" stroke-width="0.7"/>
<line x1="1093.38" y1="16.55" x2="1093.38" y2="19.75" stroke="#262626" stroke-width="0.7"/>
<text transform="translate(1093.38 274) scale(0.885 1)" text-anchor="middle" class="tk">1.5</text>
<text transform="translate(1198.25 274) scale(0.885 1)" text-anchor="middle" class="tk">2</text>
<text transform="translate(877.85 21.85) scale(0.885 1)" text-anchor="end" class="tk">0</text>
<line x1="883.65" y1="76.5" x2="886.85" y2="76.5" stroke="#262626" stroke-width="0.7"/>
<line x1="1198.25" y1="76.5" x2="1195.05" y2="76.5" stroke="#262626" stroke-width="0.7"/>
<text transform="translate(877.85 81.8) scale(0.885 1)" text-anchor="end" class="tk">-5</text>
<line x1="883.65" y1="136.45" x2="886.85" y2="136.45" stroke="#262626" stroke-width="0.7"/>
<line x1="1198.25" y1="136.45" x2="1195.05" y2="136.45" stroke="#262626" stroke-width="0.7"/>
<text transform="translate(877.85 141.75) scale(0.885 1)" text-anchor="end" class="tk">-10</text>
<line x1="883.65" y1="196.4" x2="886.85" y2="196.4" stroke="#262626" stroke-width="0.7"/>
<line x1="1198.25" y1="196.4" x2="1195.05" y2="196.4" stroke="#262626" stroke-width="0.7"/>
<text transform="translate(877.85 201.7) scale(0.885 1)" text-anchor="end" class="tk">-15</text>
<text transform="translate(877.85 261.65) scale(0.885 1)" text-anchor="end" class="tk">-20</text>
<text transform="translate(1039.75 295.2) scale(0.945 1)" text-anchor="middle" class="lb" style="font-size:15.8px">Frequency (GHz)</text>
<text transform="translate(847.25 136.45) rotate(-90)" text-anchor="middle" class="lb" style="font-size:15.5px">S<tspan dy="8.4" style="font-size:11px">11</tspan><tspan dy="-8.4">(dB)</tspan></text>
<text y="338.3" class="cp"><tspan x="1015.2">(</tspan><tspan x="1026" font-weight="bold">c</tspan><tspan x="1040.9">)</tspan></text>
<rect x="1103.4" y="135.6" width="87.0" height="112.9" fill="#fff" stroke="#262626" stroke-width="0.7"/>
<line x1="1106.2" y1="143.7" x2="1133.2" y2="143.7" stroke="#0072BD" stroke-width="1.1" stroke-dasharray="4 3.9"/>
<path d="M1120.6 139.6L1124.2 145.8L1117 145.8Z" stroke="#0072BD" stroke-width="1" fill="none"/>
<text x="1137.4" y="147.8" class="lg">Antenna 1</text>
<line x1="1106.2" y1="157.55" x2="1133.2" y2="157.55" stroke="#D95319" stroke-width="1.1" stroke-dasharray="4 3.9"/>
<path d="M1120.6 153.35L1123.6 157.55L1120.6 161.75L1117.6 157.55Z" stroke="#D95319" stroke-width="1" fill="none"/>
<text x="1137.4" y="161.65" class="lg">Antenna 2</text>
<line x1="1106.2" y1="171.4" x2="1133.2" y2="171.4" stroke="#EDB120" stroke-width="1.1" stroke-dasharray="4 3.9"/>
<rect x="1118.4" y="169.2" width="4.4" height="4.4" stroke="#EDB120" stroke-width="1" fill="none"/>
<text x="1137.4" y="175.5" class="lg">Antenna 3</text>
<line x1="1106.2" y1="185.25" x2="1133.2" y2="185.25" stroke="#7E2F8E" stroke-width="1.1" stroke-dasharray="4 3.9"/>
<path d="M1118.5 183.15L1122.7 187.35M1118.5 187.35L1122.7 183.15" stroke="#7E2F8E" stroke-width="1.2" fill="none"/>
<text x="1137.4" y="189.35" class="lg">Antenna 4</text>
<line x1="1106.2" y1="199.1" x2="1133.2" y2="199.1" stroke="#77AC30" stroke-width="1.1" stroke-dasharray="4 3.9"/>
<circle cx="1120.6" cy="199.1" r="0.9" fill="#77AC30"/>
<text x="1137.4" y="203.2" class="lg">Antenna 5</text>
<line x1="1106.2" y1="212.95" x2="1133.2" y2="212.95" stroke="#4DBEEE" stroke-width="1.1" stroke-dasharray="4 3.9"/>
<path d="M1118.2 212.95L1123 212.95M1120.6 210.55L1120.6 215.35M1118.9 211.25L1122.3 214.65M1118.9 214.65L1122.3 211.25" stroke="#4DBEEE" stroke-width="1.2" fill="none"/>
<text x="1137.4" y="217.05" class="lg">Antenna 6</text>
<line x1="1106.2" y1="226.8" x2="1133.2" y2="226.8" stroke="#A2142F" stroke-width="1.1" stroke-dasharray="4 3.9"/>
<circle cx="1120.6" cy="226.8" r="3.05" stroke="#A2142F" stroke-width="1" fill="none"/>
<text x="1137.4" y="230.9" class="lg">Antenna 7</text>
<line x1="1106.2" y1="240.65" x2="1133.2" y2="240.65" stroke="#0072BD" stroke-width="1.1" stroke-dasharray="4 3.9"/>
<path d="M1117.4 240.65L1123.8 240.65M1120.6 237.45L1120.6 243.85" stroke="#0072BD" stroke-width="1" fill="none"/>
<text x="1137.4" y="244.75" class="lg">Antenna 8</text>
</g>
</svg>
</body></html>
